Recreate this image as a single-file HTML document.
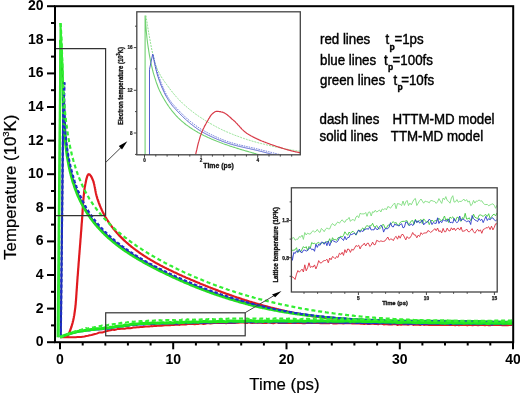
<!DOCTYPE html>
<html><head><meta charset="utf-8"><style>
html,body{margin:0;padding:0;background:#fff;width:520px;height:394px;overflow:hidden}
svg{display:block}
</style></head><body>
<svg width="520" height="394" viewBox="0 0 520 394">
<defs>
<clipPath id="cm"><rect x="56" y="7.2" width="456.2" height="334"/></clipPath>
<clipPath id="c1"><rect x="136.8" y="11.8" width="163.5" height="143.0"/></clipPath>
<clipPath id="c2"><rect x="291.4" y="187.8" width="205.8" height="104.19999999999999"/></clipPath>
</defs>
<rect width="520" height="394" fill="#fff"/>
<g clip-path="url(#cm)" stroke-linejoin="round" stroke-linecap="butt">
<path d="M60.0,337.2 L61.7,337.2 L63.5,337.3 L65.2,337.3 L67.0,337.3 L68.7,337.3 L70.5,337.3 L72.2,337.3 L74.0,337.3 L75.7,337.2 L77.5,337.1 L79.2,337.0 L81.0,336.9 L82.7,336.7 L84.5,336.5 L86.2,336.0 L88.0,335.7 L89.7,335.3 L91.5,335.0 L93.2,334.5 L95.0,334.0 L96.7,333.6 L98.5,332.8 L100.2,332.4 L102.0,332.6 L103.7,332.0 L105.5,331.3 L107.2,331.0 L109.0,330.6 L110.7,330.3 L112.5,329.6 L114.2,330.0 L116.0,329.6 L117.7,328.9 L119.5,329.0 L121.2,328.8 L123.0,328.8 L124.7,328.8 L126.5,328.3 L128.2,328.1 L130.0,328.2 L131.7,327.9 L133.5,327.6 L135.2,327.6 L137.0,327.3 L138.7,327.2 L140.5,327.0 L142.2,327.0 L144.0,326.7 L145.7,326.5 L147.5,326.5 L149.2,326.6 L150.9,326.1 L152.7,326.3 L154.4,325.9 L156.2,326.1 L157.9,325.6 L159.7,325.7 L161.4,325.8 L163.2,325.5 L164.9,325.3 L166.7,325.2 L168.4,325.3 L170.2,325.3 L171.9,324.9 L173.7,325.0 L175.4,324.7 L177.2,324.5 L178.9,324.9 L180.7,324.5 L182.4,324.2 L184.2,324.4 L185.9,324.5 L187.7,324.1 L189.4,324.1 L191.2,323.9 L192.9,324.1 L194.7,324.2 L196.4,323.9 L198.2,323.9 L199.9,323.6 L201.7,323.6 L203.4,323.9 L205.2,323.7 L206.9,323.3 L208.7,323.2 L210.4,323.4 L212.2,323.2 L213.9,323.1 L215.7,323.0 L217.4,322.9 L219.2,323.0 L220.9,323.0 L222.7,323.0 L224.4,322.7 L226.2,323.3 L227.9,322.9 L229.7,322.8 L231.4,323.1 L233.2,322.7 L234.9,322.9 L236.7,322.5 L238.4,322.7 L240.2,322.6 L241.9,322.5 L243.6,322.6 L245.4,322.9 L247.1,323.0 L248.9,322.4 L250.6,322.7 L252.4,322.9 L254.1,322.7 L255.9,322.8 L257.6,322.6 L259.4,322.7 L261.1,322.7 L262.9,322.9 L264.6,322.7 L266.4,323.0 L268.1,322.6 L269.9,322.5 L271.6,323.1 L273.4,323.3 L275.1,322.7 L276.9,322.3 L278.6,323.0 L280.4,323.1 L282.1,322.7 L283.9,323.0 L285.6,322.9 L287.4,322.9 L289.1,322.8 L290.9,322.9 L292.6,322.8 L294.4,322.9 L296.1,323.1 L297.9,323.0 L299.6,323.1 L301.4,322.9 L303.1,323.2 L304.9,323.2 L306.6,322.7 L308.4,323.0 L310.1,323.0 L311.9,322.9 L313.6,323.1 L315.4,323.1 L317.1,322.9 L318.9,323.0 L320.6,323.3 L322.4,322.9 L324.1,323.2 L325.9,323.3 L327.6,323.3 L329.4,323.2 L331.1,322.8 L332.8,323.4 L334.6,323.2 L336.3,323.6 L338.1,323.2 L339.8,323.1 L341.6,323.3 L343.3,323.5 L345.1,323.3 L346.8,323.3 L348.6,323.3 L350.3,323.1 L352.1,323.4 L353.8,323.6 L355.6,323.6 L357.3,323.6 L359.1,323.6 L360.8,323.7 L362.6,323.7 L364.3,324.1 L366.1,323.6 L367.8,323.9 L369.6,324.1 L371.3,323.8 L373.1,323.7 L374.8,323.9 L376.6,324.0 L378.3,324.2 L380.1,323.5 L381.8,323.9 L383.6,324.4 L385.3,324.3 L387.1,324.2 L388.8,324.6 L390.6,324.3 L392.3,324.4 L394.1,324.1 L395.8,324.2 L397.6,325.0 L399.3,324.4 L401.1,324.8 L402.8,324.3 L404.6,324.5 L406.3,324.5 L408.1,324.8 L409.8,324.2 L411.6,324.2 L413.3,324.9 L415.1,324.6 L416.8,324.8 L418.6,324.7 L420.3,325.0 L422.1,324.3 L423.8,324.9 L425.5,324.8 L427.3,324.7 L429.0,324.9 L430.8,324.8 L432.5,324.9 L434.3,324.8 L436.0,325.0 L437.8,324.9 L439.5,324.9 L441.3,324.9 L443.0,324.8 L444.8,324.9 L446.5,324.7 L448.3,324.9 L450.0,324.9 L451.8,325.0 L453.5,325.0 L455.3,325.2 L457.0,324.8 L458.8,325.2 L460.5,325.1 L462.3,324.9 L464.0,324.9 L465.8,325.0 L467.5,325.4 L469.3,324.9 L471.0,324.9 L472.8,325.3 L474.5,324.8 L476.3,325.1 L478.0,325.2 L479.8,325.0 L481.5,325.0 L483.3,325.0 L485.0,325.3 L486.8,324.7 L488.5,325.2 L490.3,325.3 L492.0,324.9 L493.8,325.1 L495.5,325.0 L497.3,325.1 L499.0,325.1 L500.8,325.0 L502.5,325.2 L504.3,324.9 L506.0,325.2 L507.8,325.2 L509.5,325.0 L511.3,325.0 L513.0,325.1" fill="none" stroke="#e0191f" stroke-width="2"/><path d="M60.0,337.2 L61.7,336.5 L63.5,335.9 L65.2,335.3 L67.0,334.7 L68.7,334.2 L70.5,333.6 L72.2,333.2 L74.0,332.7 L75.7,332.3 L77.5,331.9 L79.2,331.6 L81.0,331.3 L82.7,331.2 L84.5,330.7 L86.2,330.6 L88.0,330.3 L89.7,330.4 L91.5,330.0 L93.2,330.1 L95.0,329.6 L96.7,329.6 L98.5,329.4 L100.2,329.2 L102.0,329.3 L103.7,328.8 L105.5,328.3 L107.2,328.9 L109.0,328.7 L110.7,328.4 L112.5,327.7 L114.2,327.6 L116.0,327.1 L117.7,327.0 L119.5,326.8 L121.2,326.5 L123.0,326.4 L124.7,325.9 L126.5,326.1 L128.2,325.7 L130.0,325.4 L131.7,324.9 L133.5,325.2 L135.2,325.1 L137.0,324.9 L138.7,324.4 L140.5,324.6 L142.2,324.2 L144.0,324.7 L145.7,324.0 L147.5,324.0 L149.2,324.4 L150.9,324.0 L152.7,323.7 L154.4,323.9 L156.2,323.7 L157.9,323.3 L159.7,323.7 L161.4,323.7 L163.2,323.8 L164.9,323.5 L166.7,323.6 L168.4,323.5 L170.2,323.5 L171.9,323.3 L173.7,323.6 L175.4,323.6 L177.2,323.8 L178.9,323.0 L180.7,323.2 L182.4,322.9 L184.2,323.1 L185.9,323.2 L187.7,322.9 L189.4,323.0 L191.2,323.2 L192.9,323.1 L194.7,322.5 L196.4,322.8 L198.2,322.7 L199.9,322.8 L201.7,322.9 L203.4,322.5 L205.2,322.7 L206.9,322.8 L208.7,322.6 L210.4,322.7 L212.2,322.5 L213.9,322.2 L215.7,322.6 L217.4,322.1 L219.2,322.5 L220.9,322.3 L222.7,322.5 L224.4,322.4 L226.2,322.3 L227.9,322.4 L229.7,322.4 L231.4,322.4 L233.2,322.4 L234.9,322.5 L236.7,322.3 L238.4,322.1 L240.2,322.0 L241.9,322.1 L243.6,321.7 L245.4,322.1 L247.1,322.3 L248.9,321.8 L250.6,322.4 L252.4,322.0 L254.1,322.4 L255.9,322.1 L257.6,322.6 L259.4,322.0 L261.1,322.3 L262.9,322.4 L264.6,321.9 L266.4,322.1 L268.1,322.2 L269.9,322.4 L271.6,322.2 L273.4,322.3 L275.1,322.1 L276.9,322.1 L278.6,322.4 L280.4,322.4 L282.1,322.4 L283.9,322.5 L285.6,322.4 L287.4,322.3 L289.1,322.1 L290.9,322.0 L292.6,322.5 L294.4,322.2 L296.1,322.4 L297.9,321.9 L299.6,322.3 L301.4,322.2 L303.1,322.5 L304.9,322.5 L306.6,322.3 L308.4,322.4 L310.1,322.3 L311.9,322.7 L313.6,322.2 L315.4,322.5 L317.1,322.0 L318.9,322.4 L320.6,322.2 L322.4,322.7 L324.1,322.3 L325.9,322.6 L327.6,322.5 L329.4,322.4 L331.1,322.5 L332.8,322.4 L334.6,322.3 L336.3,322.4 L338.1,322.5 L339.8,322.8 L341.6,322.7 L343.3,322.6 L345.1,323.0 L346.8,322.5 L348.6,322.7 L350.3,322.7 L352.1,322.5 L353.8,322.6 L355.6,322.7 L357.3,323.0 L359.1,322.7 L360.8,322.8 L362.6,323.0 L364.3,322.7 L366.1,322.8 L367.8,323.4 L369.6,323.0 L371.3,323.3 L373.1,322.8 L374.8,322.9 L376.6,323.3 L378.3,323.3 L380.1,323.1 L381.8,323.2 L383.6,322.9 L385.3,323.1 L387.1,323.3 L388.8,323.2 L390.6,323.8 L392.3,323.3 L394.1,323.2 L395.8,323.5 L397.6,323.6 L399.3,323.4 L401.1,323.1 L402.8,323.5 L404.6,323.8 L406.3,323.3 L408.1,324.0 L409.8,323.5 L411.6,323.7 L413.3,323.5 L415.1,323.8 L416.8,323.4 L418.6,323.6 L420.3,324.1 L422.1,324.1 L423.8,323.8 L425.5,323.5 L427.3,323.7 L429.0,323.7 L430.8,323.8 L432.5,323.6 L434.3,323.7 L436.0,323.7 L437.8,324.0 L439.5,323.6 L441.3,323.6 L443.0,324.1 L444.8,323.4 L446.5,323.7 L448.3,324.0 L450.0,324.3 L451.8,323.7 L453.5,323.8 L455.3,324.0 L457.0,324.3 L458.8,323.7 L460.5,324.0 L462.3,324.0 L464.0,323.4 L465.8,323.5 L467.5,323.8 L469.3,324.1 L471.0,323.8 L472.8,324.4 L474.5,324.0 L476.3,324.1 L478.0,324.3 L479.8,324.3 L481.5,323.9 L483.3,324.0 L485.0,324.0 L486.8,323.8 L488.5,324.2 L490.3,324.3 L492.0,324.4 L493.8,324.1 L495.5,323.9 L497.3,324.1 L499.0,323.9 L500.8,324.3 L502.5,324.1 L504.3,324.2 L506.0,324.3 L507.8,323.7 L509.5,323.9 L511.3,324.2 L513.0,324.2" fill="none" stroke="#1f2fc8" stroke-width="2"/><path d="M67.0,337.3 L67.4,336.6 L67.7,336.0 L68.0,335.3 L68.3,334.7 L68.6,334.0 L68.9,333.4 L69.2,332.7 L69.5,332.1 L69.8,331.4 L70.0,330.7 L70.3,330.1 L70.5,329.4 L70.8,328.7 L71.0,328.0 L71.3,327.3 L71.5,326.7 L71.7,326.0 L71.9,325.3 L72.1,324.6 L72.3,323.9 L72.5,323.2 L72.7,322.5 L72.8,321.8 L73.0,321.2 L73.2,320.5 L73.3,319.8 L73.5,319.1 L73.6,318.4 L73.8,317.7 L73.9,316.9 L74.0,316.2 L74.2,315.5 L74.3,314.8 L74.4,314.1 L74.5,313.4 L74.6,312.7 L74.7,312.0 L74.8,311.3 L74.9,310.5 L75.0,309.8 L75.1,309.1 L75.2,308.4 L75.3,307.7 L75.4,306.9 L75.4,306.2 L75.5,305.5 L75.6,304.8 L75.7,304.1 L75.7,303.3 L75.8,302.6 L75.8,301.9 L75.9,301.2 L76.0,300.4 L76.0,299.7 L76.1,299.0 L76.1,298.3 L76.2,297.5 L76.2,296.8 L76.3,296.1 L76.3,295.3 L76.4,294.6 L76.4,293.9 L76.5,293.2 L76.5,292.4 L76.6,291.7 L76.6,291.0 L76.7,290.3 L76.7,289.5 L76.8,288.8 L76.8,288.1 L76.9,287.4 L76.9,286.6 L77.0,285.9 L77.0,285.2 L77.1,284.5 L77.1,283.7 L77.2,283.0 L77.2,282.3 L77.3,281.6 L77.3,280.8 L77.4,280.1 L77.4,279.4 L77.5,278.7 L77.5,277.9 L77.6,277.2 L77.6,276.5 L77.7,275.8 L77.8,275.1 L77.8,274.3 L77.9,273.6 L77.9,272.9 L78.0,272.2 L78.0,271.4 L78.1,270.7 L78.1,270.0 L78.2,269.3 L78.2,268.6 L78.3,267.8 L78.4,267.1 L78.4,266.4 L78.5,265.7 L78.5,265.0 L78.6,264.2 L78.6,263.5 L78.7,262.8 L78.7,262.1 L78.8,261.4 L78.9,260.7 L78.9,259.9 L79.0,259.2 L79.0,258.5 L79.1,257.8 L79.1,257.1 L79.2,256.3 L79.2,255.6 L79.3,254.9 L79.4,254.2 L79.4,253.5 L79.5,252.7 L79.5,252.0 L79.6,251.3 L79.6,250.6 L79.7,249.9 L79.8,249.2 L79.8,248.4 L79.9,247.7 L79.9,247.0 L80.0,246.3 L80.0,245.6 L80.1,244.9 L80.2,244.1 L80.2,243.4 L80.3,242.7 L80.3,242.0 L80.4,241.3 L80.4,240.5 L80.5,239.8 L80.5,239.1 L80.6,238.4 L80.7,237.7 L80.7,237.0 L80.8,236.2 L80.8,235.5 L80.9,234.8 L80.9,234.1 L81.0,233.4 L81.0,232.6 L81.1,231.9 L81.2,231.2 L81.2,230.5 L81.3,229.8 L81.3,229.1 L81.4,228.3 L81.4,227.6 L81.5,226.9 L81.5,226.2 L81.6,225.5 L81.6,224.7 L81.7,224.0 L81.7,223.3 L81.8,222.6 L81.9,221.9 L81.9,221.1 L82.0,220.4 L82.0,219.7 L82.1,219.0 L82.1,218.3 L82.2,217.5 L82.2,216.8 L82.3,216.1 L82.3,215.4 L82.4,214.6 L82.4,213.9 L82.5,213.2 L82.5,212.5 L82.6,211.8 L82.6,211.0 L82.6,210.3 L82.7,209.6 L82.7,208.9 L82.8,208.1 L82.8,207.4 L82.9,206.7 L82.9,206.0 L83.0,205.2 L83.0,204.5 L83.1,203.8 L83.1,203.1 L83.2,202.3 L83.2,201.6 L83.3,200.9 L83.3,200.2 L83.4,199.4 L83.5,198.7 L83.5,198.0 L83.6,197.2 L83.7,196.5 L83.7,195.8 L83.8,195.1 L83.9,194.3 L84.0,193.6 L84.0,192.9 L84.1,192.1 L84.2,191.4 L84.3,190.7 L84.4,189.9 L84.5,189.2 L84.6,188.5 L84.7,187.7 L84.8,187.0 L85.0,186.3 L85.1,185.5 L85.2,184.8 L85.4,184.0 L85.5,183.3 L85.7,182.6 L85.8,181.8 L86.0,181.1 L86.1,180.3 L86.3,179.6 L86.5,178.9 L86.7,178.1 L86.9,177.4 L87.1,176.7 L87.3,176.1 L87.5,175.6 L87.8,175.1 L88.1,174.7 L88.3,174.4 L88.6,174.3 L88.9,174.2 L89.3,174.3 L89.6,174.5 L90.0,174.8 L90.3,175.3 L90.7,175.7 L91.1,176.3 L91.4,176.9 L91.8,177.6 L92.1,178.3 L92.4,179.0 L92.7,179.7 L93.0,180.4 L93.3,181.1 L93.5,181.9 L93.7,182.6 L93.9,183.3 L94.1,184.1 L94.3,184.8 L94.4,185.5 L94.6,186.3 L94.7,187.0 L94.9,187.8 L95.0,188.5 L95.2,189.2 L95.3,190.0 L95.4,190.7 L95.6,191.5 L95.7,192.2 L95.9,193.0 L96.0,193.7 L96.2,194.4 L96.4,195.2 L96.6,195.9 L96.8,196.6 L97.0,197.4 L97.2,198.1 L97.4,198.8 L97.7,199.6 L97.9,200.3 L98.2,201.0 L98.4,201.7 L98.7,202.4 L98.9,203.1 L99.2,203.8 L99.5,204.5 L99.7,205.2 L100.0,205.9 L100.3,206.6 L100.6,207.3 L100.9,208.0 L101.2,208.6 L101.5,209.3 L101.8,210.0 L102.1,210.6 L102.4,211.3 L102.7,211.9 L103.0,212.6 L103.4,213.2 L103.7,213.9 L104.1,214.5 L104.4,215.1 L104.7,215.8 L105.1,216.4 L105.4,217.0 L105.8,217.6 L106.2,218.2 L106.5,218.9 L106.9,219.5 L107.3,220.1 L107.7,220.7 L108.1,221.3 L108.4,221.9 L108.8,222.5 L109.2,223.0 L109.6,223.6 L110.0,224.2 L110.5,224.8 L110.9,225.4 L111.3,225.9 L111.7,226.5 L112.1,227.0 L112.6,227.6 L113.0,228.2 L113.4,228.7 L113.9,229.3 L114.3,229.8 L114.8,230.4 L115.2,230.9 L115.7,231.4 L116.1,232.0 L116.6,232.5 L117.0,233.0 L117.5,233.5 L118.0,234.1 L118.5,234.6 L118.9,235.1 L119.4,235.6 L119.9,236.1 L120.4,236.6 L120.9,237.1 L121.4,237.6 L121.9,238.1 L122.4,238.6 L122.9,239.1 L123.4,239.6 L123.9,240.1 L124.4,240.6 L124.9,241.0 L125.4,241.5 L126.0,242.0 L126.5,242.5 L127.0,242.9 L127.6,243.4 L128.1,243.8 L128.6,244.3 L129.2,244.8 L129.7,245.2 L130.2,245.7 L130.8,246.1 L131.3,246.6 L131.9,247.0 L132.5,247.5 L133.0,247.9 L133.6,248.3 L134.1,248.8 L134.7,249.2 L135.3,249.6 L135.8,250.0 L136.4,250.5 L137.0,250.9 L137.6,251.3 L138.2,251.7 L138.7,252.1 L139.3,252.6 L139.9,253.0 L140.5,253.4 L141.1,253.8 L141.7,254.2 L142.3,254.6 L142.9,255.0 L143.5,255.4 L144.1,255.8 L144.7,256.2 L145.3,256.5 L145.9,256.9 L146.5,257.3 L147.1,257.7 L147.7,258.1 L148.4,258.5 L149.0,258.8 L149.6,259.2 L150.2,259.6 L150.8,260.0 L151.5,260.3 L152.1,260.7 L152.7,261.1 L153.4,261.4 L154.0,261.8 L154.6,262.2 L155.3,262.5 L155.9,262.9 L156.5,263.2 L157.2,263.6 L157.8,263.9 L158.5,264.3 L159.1,264.6 L159.7,265.0 L160.4,265.3 L161.0,265.7 L161.7,266.0 L162.3,266.3 L163.0,266.7 L163.6,267.0 L164.3,267.3 L164.9,267.7 L165.6,268.0 L166.3,268.3 L166.9,268.7 L167.6,269.0 L168.2,269.3 L168.9,269.7 L169.6,270.0 L170.2,270.3 L170.9,270.6 L171.6,270.9 L172.2,271.3 L172.9,271.6 L173.5,271.9 L174.2,272.2 L174.9,272.5 L175.6,272.8 L176.2,273.1 L176.9,273.4 L177.6,273.8 L178.2,274.1 L178.9,274.4 L179.6,274.7 L180.2,275.0 L180.9,275.3 L181.6,275.6 L182.3,275.9 L182.9,276.2 L183.6,276.5 L184.3,276.8 L185.0,277.1 L185.6,277.4 L186.3,277.7 L187.0,278.0 L187.7,278.3 L188.3,278.5 L189.0,278.8 L189.7,279.1 L190.4,279.4 L191.0,279.7 L191.7,280.0 L192.4,280.3 L193.1,280.6 L193.8,280.9 L194.4,281.1 L195.1,281.4 L195.8,281.7 L196.5,282.0 L197.1,282.3 L197.8,282.6 L198.5,282.8 L199.2,283.1 L199.8,283.4 L200.5,283.7 L201.2,284.0 L201.9,284.2 L202.5,284.5 L203.2,284.8 L203.9,285.1 L204.6,285.3 L205.2,285.6 L205.9,285.9 L206.6,286.2 L207.3,286.4 L208.0,286.7 L208.6,287.0 L209.3,287.2 L210.0,287.5 L210.7,287.8 L211.3,288.0 L212.0,288.3 L212.7,288.6 L213.4,288.8 L214.0,289.1 L214.7,289.3 L215.4,289.6 L216.1,289.9 L216.8,290.1 L217.4,290.4 L218.1,290.6 L218.8,290.9 L219.5,291.2 L220.2,291.4 L220.8,291.7 L221.5,291.9 L222.2,292.2 L222.9,292.4 L223.5,292.7 L224.2,292.9 L224.9,293.2 L225.6,293.4 L226.3,293.7 L226.9,293.9 L227.6,294.1 L228.3,294.4 L229.0,294.6 L229.7,294.9 L230.3,295.1 L231.0,295.3 L231.7,295.6 L232.4,295.8 L233.1,296.1 L233.7,296.3 L234.4,296.5 L235.1,296.8 L235.8,297.0 L236.5,297.2 L237.1,297.5 L237.8,297.7 L238.5,297.9 L239.2,298.1 L239.9,298.4 L240.6,298.6 L241.2,298.8 L241.9,299.1 L242.6,299.3 L243.3,299.5 L244.0,299.7 L244.6,299.9 L245.3,300.2 L246.0,300.4 L246.7,300.6 L247.4,300.8 L248.1,301.0 L248.7,301.2 L249.4,301.5 L250.1,301.7 L250.8,301.9 L251.5,302.1 L252.2,302.3 L252.9,302.5 L253.5,302.7 L254.2,302.9 L254.9,303.1 L255.6,303.3 L256.3,303.5 L257.0,303.7 L257.7,303.9 L258.3,304.1 L259.0,304.3 L259.7,304.5 L260.4,304.7 L261.1,304.9 L261.8,305.1 L262.5,305.3 L263.2,305.5 L263.8,305.7 L264.5,305.9 L265.2,306.1 L265.9,306.2 L266.6,306.4 L267.3,306.6 L268.0,306.8 L268.7,307.0 L269.4,307.2 L270.0,307.3 L270.7,307.5 L271.4,307.7 L272.1,307.9 L272.8,308.1 L273.5,308.2 L274.2,308.4 L274.9,308.6 L275.6,308.8 L276.3,308.9 L277.0,309.1 L277.7,309.3 L278.3,309.4 L279.0,309.6 L279.7,309.8 L280.4,309.9 L281.1,310.1 L281.8,310.3 L282.5,310.4 L283.2,310.6 L283.9,310.7 L284.6,310.9 L285.3,311.0 L286.0,311.2 L286.7,311.3 L287.4,311.5 L288.1,311.7 L288.8,311.8 L289.5,311.9 L290.2,312.1 L290.9,312.2 L291.6,312.4 L292.3,312.5 L293.0,312.7 L293.7,312.8 L294.4,313.0 L295.1,313.1 L295.8,313.2 L296.5,313.4 L297.2,313.5 L297.9,313.6 L298.6,313.8 L299.3,313.9 L300.0,314.0 L300.7,314.2 L301.4,314.3 L302.1,314.4 L302.8,314.5 L303.5,314.7 L304.2,314.8 L304.9,314.9 L305.6,315.0 L306.3,315.1 L307.0,315.3 L307.7,315.4 L308.4,315.5 L309.1,315.6 L309.8,315.7 L310.5,315.8 L311.2,315.9 L311.9,316.0 L312.7,316.2 L313.4,316.3 L314.1,316.4 L314.8,316.5 L315.5,316.6 L316.2,316.7 L316.9,316.8 L317.6,316.9 L318.3,317.0 L319.0,317.1 L319.8,317.2 L320.5,317.2 L321.2,317.3 L321.9,317.4 L322.6,317.5 L323.3,317.6 L324.0,317.7 L324.7,317.8 L325.5,317.9 L326.2,317.9 L326.9,318.0 L327.6,318.1 L328.3,318.2 L329.0,318.3 L329.8,318.3 L330.5,318.4 L331.2,318.5 L331.9,318.6 L332.6,318.6 L333.3,318.7 L334.1,318.8 L334.8,318.8 L335.5,318.9 L336.2,319.0 L336.9,319.0 L337.7,319.1 L338.4,319.2 L339.1,319.2 L339.8,319.3 L340.5,319.3 L341.3,319.4 L342.0,319.4 L342.7,319.5 L343.4,319.6 L344.1,319.6 L344.9,319.7 L345.6,319.7 L346.3,319.8 L347.0,319.8 L347.8,319.9 L348.5,319.9 L349.2,320.0 L349.9,320.0 L350.7,320.0 L351.4,320.1 L352.1,320.1 L352.8,320.2 L353.6,320.2 L354.3,320.3 L355.0,320.3 L355.7,320.3 L356.5,320.4 L357.2,320.4 L357.9,320.4 L358.6,320.5 L359.4,320.5 L360.1,320.5 L360.8,320.6 L361.5,320.6 L362.3,320.6 L363.0,320.7 L363.7,320.7 L364.5,320.7 L365.2,320.8 L365.9,320.8 L366.6,320.8 L367.4,320.8 L368.1,320.9 L368.8,320.9 L369.6,320.9 L370.3,320.9 L371.0,321.0 L371.8,321.0 L372.5,321.0 L373.2,321.0 L373.9,321.0 L374.7,321.0 L375.4,321.1 L376.1,321.1 L376.9,321.1 L377.6,321.1 L378.3,321.1 L379.1,321.1 L379.8,321.2 L380.5,321.2 L381.3,321.2 L382.0,321.2 L382.7,321.2 L383.5,321.2 L384.2,321.2 L384.9,321.2 L385.7,321.3 L386.4,321.3 L387.1,321.3 L387.8,321.3 L388.6,321.3 L389.3,321.3 L390.0,321.3 L390.8,321.3 L391.5,321.3 L392.2,321.3 L393.0,321.3 L393.7,321.3 L394.4,321.3 L395.2,321.3 L395.9,321.4 L396.6,321.4 L397.4,321.4 L398.1,321.4 L398.8,321.4 L399.6,321.4 L400.3,321.4 L401.0,321.4 L401.8,321.4 L402.5,321.4 L403.2,321.4 L404.0,321.4 L404.7,321.4 L405.4,321.4 L406.2,321.4 L406.9,321.4 L407.6,321.4 L408.4,321.4 L409.1,321.4 L409.8,321.4 L410.6,321.4 L411.3,321.4 L412.0,321.4 L412.8,321.4 L413.5,321.4 L414.2,321.4 L415.0,321.4 L415.7,321.4 L416.4,321.3 L417.2,321.3 L417.9,321.3 L418.6,321.3 L419.4,321.3 L420.1,321.3 L420.8,321.3 L421.6,321.3 L422.3,321.3 L423.0,321.3 L423.8,321.3 L424.5,321.3 L425.2,321.3 L426.0,321.3 L426.7,321.3 L427.4,321.3 L428.2,321.3 L428.9,321.3 L429.6,321.3 L430.4,321.3 L431.1,321.3 L431.8,321.3 L432.5,321.3 L433.3,321.3 L434.0,321.3 L434.7,321.3 L435.5,321.3 L436.2,321.3 L436.9,321.3 L437.7,321.3 L438.4,321.3 L439.1,321.3 L439.9,321.3 L440.6,321.3 L441.3,321.3 L442.0,321.3 L442.8,321.3 L443.5,321.3 L444.2,321.3 L445.0,321.3 L445.7,321.3 L446.4,321.3 L447.1,321.3 L447.9,321.3 L448.6,321.3 L449.3,321.3 L450.1,321.3 L450.8,321.3 L451.5,321.3 L452.2,321.3 L453.0,321.3 L453.7,321.3 L454.4,321.3 L455.1,321.3 L455.9,321.3 L456.6,321.3 L457.3,321.3 L458.0,321.3 L458.8,321.3 L459.5,321.3 L460.2,321.3 L460.9,321.3 L461.7,321.4 L462.4,321.4 L463.1,321.4 L463.8,321.4 L464.6,321.4 L465.3,321.4 L466.0,321.4 L466.7,321.4 L467.4,321.4 L468.2,321.5 L468.9,321.5 L469.6,321.5 L470.3,321.5 L471.1,321.5 L471.8,321.5 L472.5,321.6 L473.2,321.6 L473.9,321.6 L474.6,321.6 L475.4,321.6 L476.1,321.6 L476.8,321.7 L477.5,321.7 L478.2,321.7 L479.0,321.7 L479.7,321.8 L480.4,321.8 L481.1,321.8 L481.8,321.8 L482.5,321.9 L483.3,321.9 L484.0,321.9 L484.7,321.9 L485.4,322.0 L486.1,322.0 L486.8,322.0 L487.5,322.1 L488.3,322.1 L489.0,322.1 L489.7,322.2 L490.4,322.2 L491.1,322.2 L491.8,322.3 L492.5,322.3 L493.2,322.3 L493.9,322.4 L494.6,322.4 L495.4,322.5 L496.1,322.5 L496.8,322.6 L497.5,322.6 L498.2,322.6 L498.9,322.7 L499.6,322.7 L500.3,322.8 L501.0,322.8 L501.7,322.9 L502.4,322.9 L503.1,323.0 L503.8,323.0 L504.5,323.1 L505.2,323.1 L505.9,323.2 L506.6,323.3 L507.4,323.3 L508.1,323.4 L508.8,323.4 L509.5,323.5 L510.2,323.6 L510.9,323.6 L511.6,323.7 L512.3,323.7 L512.9,323.8" fill="none" stroke="#e0191f" stroke-width="2.2"/><path d="M60.8,337.2 L62.9,140.6 L63.4,96.9 L63.9,93.5 L64.6,115.6 L65.4,133.5 L66.1,141.9 L66.8,148.4 L67.6,153.9 L68.3,158.6 L69.1,162.7 L69.8,166.5 L70.6,169.9 L71.3,173.1 L72.1,176.0 L72.8,178.7 L73.6,181.3 L74.3,183.7 L75.1,186.0 L75.8,188.2 L76.6,190.2 L77.3,192.2 L78.1,194.1 L78.8,195.9 L79.6,197.6 L80.3,199.3 L81.1,200.9 L81.8,202.4 L82.6,203.9 L83.3,205.3 L84.1,206.7 L84.8,208.0 L85.6,209.3 L86.3,210.6 L87.1,211.8 L87.8,212.9 L88.6,214.1 L89.3,215.2 L90.1,216.3 L90.8,217.3 L91.6,218.3 L92.3,219.3 L93.1,220.3 L93.8,221.3 L94.6,222.2 L95.3,223.1 L96.1,224.0 L96.8,224.9 L97.6,225.7 L98.3,226.5 L99.1,227.4 L99.8,228.2 L100.6,229.0 L101.3,229.7 L102.1,230.5 L102.8,231.2 L103.6,232.0 L104.3,232.7 L105.1,233.4 L105.8,234.1 L106.6,234.8 L107.3,235.5 L108.1,236.2 L108.8,236.8 L109.6,237.5 L110.3,238.1 L111.1,238.8 L111.8,239.4 L112.6,240.0 L113.3,240.6 L114.1,241.3 L114.8,241.9 L115.6,242.4 L116.3,243.0 L117.1,243.6 L117.8,244.2 L118.6,244.8 L119.3,245.3 L120.1,245.9 L120.8,246.4 L121.6,247.0 L122.3,247.5 L123.1,248.0 L123.8,248.6 L124.6,249.1 L125.3,249.6 L126.1,250.1 L126.8,250.6 L127.6,251.1 L128.3,251.6 L129.1,252.1 L129.8,252.6 L130.6,253.1 L131.3,253.6 L132.1,254.1 L132.8,254.6 L133.6,255.0 L134.3,255.5 L135.1,256.0 L135.8,256.4 L136.6,256.9 L137.3,257.3 L138.1,257.8 L138.8,258.3 L139.6,258.7 L140.3,259.1 L141.1,259.6 L141.8,260.0 L142.6,260.5 L143.3,260.9 L144.1,261.3 L144.8,261.8 L145.6,262.2 L146.3,262.6 L147.1,263.0 L147.8,263.5 L148.6,263.9 L149.3,264.3 L150.1,264.7 L150.8,265.1 L151.6,265.5 L152.3,265.9 L153.1,266.3 L153.8,266.7 L154.6,267.1 L155.3,267.5 L156.1,267.9 L156.8,268.3 L157.6,268.7 L158.3,269.1 L159.1,269.5 L159.8,269.9 L160.6,270.2 L161.3,270.6 L162.1,271.0 L162.8,271.4 L163.6,271.8 L164.3,272.1 L165.1,272.5 L165.8,272.9 L166.6,273.2 L167.3,273.6 L168.1,274.0 L168.8,274.3 L169.6,274.7 L170.3,275.0 L171.1,275.4 L171.8,275.8 L172.6,276.1 L173.3,276.5 L174.1,276.8 L174.8,277.1 L175.6,277.5 L176.3,277.8 L177.1,278.2 L177.8,278.5 L178.6,278.9 L179.3,279.2 L180.1,279.5 L180.8,279.9 L181.6,280.2 L182.3,280.5 L183.1,280.8 L183.8,281.2 L184.6,281.5 L185.3,281.8 L186.1,282.1 L186.8,282.5 L187.6,282.8 L188.3,283.1 L189.1,283.4 L189.8,283.7 L190.6,284.0 L191.3,284.3 L192.1,284.6 L192.8,285.0 L193.6,285.3 L194.3,285.6 L195.1,285.9 L195.8,286.2 L196.6,286.5 L197.3,286.8 L198.1,287.0 L198.8,287.3 L199.6,287.6 L200.3,287.9 L201.1,288.2 L201.8,288.5 L202.6,288.8 L203.3,289.1 L204.1,289.3 L204.8,289.6 L205.6,289.9 L206.3,290.2 L207.1,290.5 L207.8,290.7 L208.6,291.0 L209.3,291.3 L210.1,291.5 L210.8,291.8 L211.6,292.1 L212.3,292.3 L213.1,292.6 L213.8,292.9 L214.6,293.1 L215.3,293.4 L216.1,293.6 L216.8,293.9 L217.6,294.2 L218.3,294.4 L219.1,294.7 L219.8,294.9 L220.6,295.2 L221.3,295.4 L222.1,295.7 L222.8,295.9 L223.6,296.1 L224.3,296.4 L225.1,296.6 L225.8,296.9 L226.6,297.1 L227.3,297.3 L228.1,297.6 L228.8,297.8 L229.6,298.0 L230.3,298.3 L231.1,298.5 L231.8,298.7 L232.6,298.9 L233.3,299.2 L234.1,299.4 L234.8,299.6 L235.6,299.8 L236.3,300.0 L237.1,300.3 L237.8,300.5 L238.6,300.7 L239.3,300.9 L240.1,301.1 L240.8,301.3 L241.6,301.5 L242.3,301.7 L243.1,301.9 L243.8,302.1 L244.6,302.3 L245.3,302.5 L246.1,302.7 L246.8,302.9 L247.6,303.1 L248.3,303.3 L249.1,303.5 L249.8,303.7 L250.6,303.9 L251.3,304.1 L252.1,304.3 L252.8,304.5 L253.6,304.7 L254.3,304.9 L255.1,305.0 L255.8,305.2 L256.6,305.4 L257.3,305.6 L258.1,305.8 L258.8,305.9 L259.6,306.1 L260.3,306.3 L261.1,306.5 L261.8,306.6 L262.6,306.8 L263.3,307.0 L264.1,307.2 L264.8,307.3 L265.6,307.5 L266.3,307.7 L267.1,307.8 L267.8,308.0 L268.6,308.1 L269.3,308.3 L270.1,308.5 L270.8,308.6 L271.6,308.8 L272.3,308.9 L273.1,309.1 L273.8,309.2 L274.6,309.4 L275.3,309.5 L276.1,309.7 L276.8,309.8 L277.6,310.0 L278.3,310.1 L279.1,310.3 L279.8,310.4 L280.6,310.6 L281.3,310.7 L282.1,310.8 L282.8,311.0 L283.6,311.1 L284.3,311.2 L285.1,311.4 L285.8,311.5 L286.6,311.6 L287.3,311.8 L288.1,311.9 L288.8,312.0 L289.5,312.2 L290.3,312.3 L291.0,312.4 L291.8,312.5 L292.5,312.7 L293.3,312.8 L294.0,312.9 L294.8,313.0 L295.5,313.1 L296.3,313.3 L297.0,313.4 L297.8,313.5 L298.5,313.6 L299.3,313.7 L300.0,313.8 L300.8,313.9 L301.5,314.0 L302.3,314.2 L303.0,314.3 L303.8,314.4 L304.5,314.5 L305.3,314.6 L306.0,314.7 L306.8,314.8 L307.5,314.9 L308.3,315.0 L309.0,315.1 L309.8,315.2 L310.5,315.3 L311.3,315.4 L312.0,315.5 L312.8,315.6 L313.5,315.7 L314.3,315.7 L315.0,315.8 L315.8,315.9 L316.5,316.0 L317.3,316.1 L318.0,316.2 L318.8,316.3 L319.5,316.4 L320.3,316.4 L321.0,316.5 L321.8,316.6 L322.5,316.7 L323.3,316.8 L324.0,316.9 L324.8,316.9 L325.5,317.0 L326.3,317.1 L327.0,317.2 L327.8,317.2 L328.5,317.3 L329.3,317.4 L330.0,317.5 L330.8,317.5 L331.5,317.6 L332.3,317.7 L333.0,317.7 L333.8,317.8 L334.5,317.9 L335.3,318.0 L336.0,318.0 L336.8,318.1 L337.5,318.1 L338.3,318.2 L339.0,318.3 L339.8,318.3 L340.5,318.4 L341.3,318.5 L342.0,318.5 L342.8,318.6 L343.5,318.6 L344.3,318.7 L345.0,318.8 L345.8,318.8 L346.5,318.9 L347.3,318.9 L348.0,319.0 L348.8,319.0 L349.5,319.1 L350.3,319.1 L351.0,319.2 L351.8,319.2 L352.5,319.3 L353.3,319.3 L354.0,319.4 L354.8,319.4 L355.5,319.5 L356.3,319.5 L357.0,319.6 L357.8,319.6 L358.5,319.7 L359.3,319.7 L360.0,319.7 L360.8,319.8 L361.5,319.8 L362.3,319.9 L363.0,319.9 L363.8,320.0 L364.5,320.0 L365.3,320.0 L366.0,320.1 L366.8,320.1 L367.5,320.1 L368.3,320.2 L369.0,320.2 L369.8,320.3 L370.5,320.3 L371.3,320.3 L372.0,320.4 L372.8,320.4 L373.5,320.4 L374.3,320.5 L375.0,320.5 L375.8,320.5 L376.5,320.6 L377.3,320.6 L378.0,320.6 L378.8,320.6 L379.5,320.7 L380.3,320.7 L381.0,320.7 L381.8,320.8 L382.5,320.8 L383.3,320.8 L384.0,320.8 L384.8,320.9 L385.5,320.9 L386.3,320.9 L387.0,320.9 L387.8,321.0 L388.5,321.0 L389.3,321.0 L390.0,321.0 L390.8,321.0 L391.5,321.1 L392.3,321.1 L393.0,321.1 L393.8,321.1 L394.5,321.1 L395.3,321.2 L396.0,321.2 L396.8,321.2 L397.5,321.2 L398.3,321.2 L399.0,321.3 L399.8,321.3 L400.5,321.3 L401.3,321.3 L402.0,321.3 L402.8,321.3 L403.5,321.4 L404.3,321.4 L405.0,321.4 L405.8,321.4 L406.5,321.4 L407.3,321.4 L408.0,321.4 L408.8,321.4 L409.5,321.5 L410.3,321.5 L411.0,321.5 L411.8,321.5 L412.5,321.5 L413.3,321.5 L414.0,321.5 L414.8,321.5 L415.5,321.6 L416.3,321.6 L417.0,321.6 L417.8,321.6 L418.5,321.6 L419.3,321.6 L420.0,321.6 L420.8,321.6 L421.5,321.6 L422.3,321.6 L423.0,321.6 L423.8,321.6 L424.5,321.7 L425.3,321.7 L426.0,321.7 L426.8,321.7 L427.5,321.7 L428.3,321.7 L429.0,321.7 L429.8,321.7 L430.5,321.7 L431.3,321.7 L432.0,321.7 L432.8,321.7 L433.5,321.7 L434.3,321.7 L435.0,321.7 L435.8,321.7 L436.5,321.7 L437.3,321.8 L438.0,321.8 L438.8,321.8 L439.5,321.8 L440.3,321.8 L441.0,321.8 L441.8,321.8 L442.5,321.8 L443.3,321.8 L444.0,321.8 L444.8,321.8 L445.5,321.8 L446.3,321.8 L447.0,321.8 L447.8,321.8 L448.5,321.8 L449.3,321.8 L450.0,321.8 L450.8,321.8 L451.5,321.8 L452.3,321.8 L453.0,321.8 L453.8,321.8 L454.5,321.8 L455.3,321.8 L456.0,321.8 L456.8,321.8 L457.5,321.8 L458.3,321.9 L459.0,321.9 L459.8,321.9 L460.5,321.9 L461.3,321.9 L462.0,321.9 L462.8,321.9 L463.5,321.9 L464.3,321.9 L465.0,321.9 L465.8,321.9 L466.5,321.9 L467.3,321.9 L468.0,321.9 L468.8,321.9 L469.5,321.9 L470.3,321.9 L471.0,321.9 L471.8,321.9 L472.5,321.9 L473.3,321.9 L474.0,321.9 L474.8,321.9 L475.5,321.9 L476.3,321.9 L477.0,321.9 L477.8,321.9 L478.5,322.0 L479.3,322.0 L480.0,322.0 L480.8,322.0 L481.5,322.0 L482.3,322.0 L483.0,322.0 L483.8,322.0 L484.5,322.0 L485.3,322.0 L486.0,322.0 L486.8,322.0 L487.5,322.0 L488.3,322.0 L489.0,322.0 L489.8,322.0 L490.5,322.1 L491.3,322.1 L492.0,322.1 L492.8,322.1 L493.5,322.1 L494.3,322.1 L495.0,322.1 L495.8,322.1 L496.5,322.1 L497.3,322.1 L498.0,322.1 L498.8,322.2 L499.5,322.2 L500.3,322.2 L501.0,322.2 L501.8,322.2 L502.5,322.2 L503.3,322.2 L504.0,322.2 L504.8,322.3 L505.5,322.3 L506.3,322.3 L507.0,322.3 L507.8,322.3 L508.5,322.3 L509.3,322.3 L510.0,322.4 L510.8,322.4 L511.5,322.4 L512.3,322.4 L513.0,322.4" fill="none" stroke="#1a2aa0" stroke-width="2"/><path d="M57.8,337.2 L60.6,39.8" fill="none" stroke="#3ad83a" stroke-width="2.4"/><path d="M60.3,40.4 L60.4,41.4 L60.5,42.3 L60.6,43.3 L60.7,44.2 L60.8,45.2 L60.9,46.2 L61.0,47.1 L61.1,48.1 L61.2,49.1 L61.2,50.1 L61.3,51.1 L61.4,52.0 L61.5,53.0 L61.5,54.0 L61.6,55.0 L61.7,56.0 L61.7,57.0 L61.8,58.1 L61.8,59.1 L61.9,60.1 L61.9,61.1 L62.0,62.1 L62.0,63.1 L62.1,64.2 L62.1,65.2 L62.2,66.2 L62.2,67.3 L62.3,68.3 L62.3,69.3 L62.3,70.4 L62.4,71.4 L62.4,72.5 L62.4,73.5 L62.5,74.6 L62.5,75.6 L62.5,76.7 L62.5,77.7 L62.6,78.8 L62.6,79.9 L62.6,80.9 L62.7,82.0 L62.7,83.0 L62.7,84.1 L62.7,85.2 L62.7,86.3 L62.8,87.3 L62.8,88.4 L62.8,89.5 L62.8,90.6 L62.9,91.6 L62.9,92.7 L62.9,93.8 L62.9,94.9 L63.0,96.0 L63.0,97.1 L63.0,98.1 L63.0,99.2 L63.1,100.3 L63.1,101.4 L63.1,102.5 L63.1,103.6 L63.2,104.7 L63.2,105.8 L63.2,106.9 L63.3,108.0 L63.3,109.1 L63.3,110.1 L63.4,111.2 L63.4,112.3 L63.5,113.4 L63.5,114.5 L63.5,115.6 L63.6,116.7 L63.6,117.8 L63.7,118.9 L63.7,120.0 L63.8,121.1 L63.8,122.2 L63.9,123.3 L64.0,124.4 L64.0,125.5 L64.1,126.6 L64.2,127.7 L64.2,128.8 L64.3,129.9 L64.4,130.9 L64.4,132.0 L64.5,133.1 L64.6,134.2 L64.7,135.3 L64.8,136.4 L64.9,137.5 L65.0,138.6 L65.1,139.7 L65.2,140.7 L65.3,141.8 L65.4,142.9 L65.5,144.0 L65.6,145.1 L65.8,146.1 L65.9,147.2 L66.0,148.3 L66.2,149.4 L66.3,150.4 L66.4,151.5 L66.6,152.6 L66.7,153.6 L66.9,154.7 L67.0,155.8 L67.2,156.8 L67.4,157.9 L67.6,158.9 L67.7,160.0 L67.9,161.1 L68.1,162.1 L68.3,163.1 L68.5,164.2 L68.7,165.2 L68.9,166.3 L69.1,167.3 L69.3,168.4 L69.6,169.4 L69.8,170.4 L70.0,171.4 L70.3,172.5 L70.5,173.5 L70.8,174.5 L71.0,175.5 L71.3,176.5 L71.6,177.6 L71.9,178.6 L72.2,179.6 L72.4,180.6 L72.7,181.6 L73.0,182.6 L73.4,183.5 L73.7,184.5 L74.0,185.5 L74.3,186.5 L74.7,187.5 L75.0,188.4 L75.4,189.4 L75.7,190.4 L76.1,191.3 L76.5,192.3 L76.8,193.3 L77.2,194.2 L77.6,195.2 L78.0,196.1 L78.4,197.0 L78.9,198.0 L79.3,198.9 L79.7,199.8 L80.1,200.7 L80.6,201.7 L81.1,202.6 L81.5,203.5 L82.0,204.4 L82.5,205.3 L83.0,206.2 L83.4,207.1 L83.9,208.0 L84.5,208.8 L85.0,209.7 L85.5,210.6 L86.0,211.4 L86.6,212.3 L87.1,213.2 L87.7,214.0 L88.2,214.9 L88.8,215.7 L89.4,216.5 L90.0,217.4 L90.5,218.2 L91.1,219.0 L91.7,219.8 L92.4,220.7 L93.0,221.5 L93.6,222.3 L94.2,223.1 L94.9,223.8 L95.5,224.6 L96.2,225.4 L96.9,226.2 L97.5,227.0 L98.2,227.7 L98.9,228.5 L99.6,229.2 L100.3,230.0 L101.0,230.7 L101.7,231.5 L102.4,232.2 L103.2,232.9 L103.9,233.6 L104.6,234.4 L105.4,235.1 L106.1,235.8 L106.9,236.5 L107.6,237.2 L108.4,237.9 L109.2,238.6 L110.0,239.3 L110.8,239.9 L111.5,240.6 L112.3,241.3 L113.1,241.9 L114.0,242.6 L114.8,243.3 L115.6,243.9 L116.4,244.6 L117.2,245.2 L118.1,245.8 L118.9,246.5 L119.7,247.1 L120.6,247.7 L121.4,248.3 L122.3,248.9 L123.2,249.6 L124.0,250.2 L124.9,250.8 L125.8,251.4 L126.6,251.9 L127.5,252.5 L128.4,253.1 L129.3,253.7 L130.2,254.3 L131.1,254.8 L132.0,255.4 L132.9,256.0 L133.8,256.5 L134.7,257.1 L135.6,257.7 L136.5,258.2 L137.4,258.8 L138.4,259.3 L139.3,259.8 L140.2,260.4 L141.1,260.9 L142.1,261.4 L143.0,262.0 L143.9,262.5 L144.9,263.0 L145.8,263.5 L146.7,264.0 L147.7,264.6 L148.6,265.1 L149.6,265.6 L150.5,266.1 L151.5,266.6 L152.4,267.1 L153.4,267.6 L154.3,268.1 L155.3,268.6 L156.3,269.0 L157.2,269.5 L158.2,270.0 L159.1,270.5 L160.1,271.0 L161.1,271.5 L162.0,271.9 L163.0,272.4 L163.9,272.9 L164.9,273.3 L165.9,273.8 L166.8,274.3 L167.8,274.7 L168.8,275.2 L169.7,275.7 L170.7,276.1 L171.7,276.6 L172.6,277.0 L173.6,277.5 L174.6,277.9 L175.6,278.4 L176.5,278.8 L177.5,279.2 L178.5,279.7 L179.5,280.1 L180.4,280.5 L181.4,281.0 L182.4,281.4 L183.4,281.8 L184.3,282.3 L185.3,282.7 L186.3,283.1 L187.3,283.5 L188.3,283.9 L189.3,284.3 L190.2,284.8 L191.2,285.2 L192.2,285.6 L193.2,286.0 L194.2,286.4 L195.2,286.8 L196.2,287.2 L197.1,287.6 L198.1,288.0 L199.1,288.3 L200.1,288.7 L201.1,289.1 L202.1,289.5 L203.1,289.9 L204.1,290.3 L205.1,290.6 L206.1,291.0 L207.1,291.4 L208.1,291.7 L209.1,292.1 L210.1,292.5 L211.0,292.8 L212.0,293.2 L213.0,293.5 L214.0,293.9 L215.0,294.2 L216.0,294.6 L217.0,294.9 L218.0,295.3 L219.0,295.6 L220.1,296.0 L221.1,296.3 L222.1,296.6 L223.1,297.0 L224.1,297.3 L225.1,297.6 L226.1,297.9 L227.1,298.3 L228.1,298.6 L229.1,298.9 L230.1,299.2 L231.1,299.5 L232.1,299.8 L233.1,300.1 L234.2,300.4 L235.2,300.7 L236.2,301.0 L237.2,301.3 L238.2,301.6 L239.2,301.9 L240.2,302.2 L241.2,302.5 L242.3,302.8 L243.3,303.0 L244.3,303.3 L245.3,303.6 L246.3,303.9 L247.3,304.1 L248.4,304.4 L249.4,304.7 L250.4,304.9 L251.4,305.2 L252.4,305.4 L253.5,305.7 L254.5,305.9 L255.5,306.2 L256.5,306.4 L257.6,306.7 L258.6,306.9 L259.6,307.2 L260.6,307.4 L261.6,307.6 L262.7,307.9 L263.7,308.1 L264.7,308.3 L265.8,308.5 L266.8,308.7 L267.8,309.0 L268.8,309.2 L269.9,309.4 L270.9,309.6 L271.9,309.8 L273.0,310.0 L274.0,310.2 L275.0,310.4 L276.0,310.6 L277.1,310.8 L278.1,311.0 L279.1,311.2 L280.2,311.4 L281.2,311.5 L282.2,311.7 L283.3,311.9 L284.3,312.1 L285.3,312.2 L286.4,312.4 L287.4,312.6 L288.5,312.8 L289.5,312.9 L290.5,313.1 L291.6,313.2 L292.6,313.4 L293.6,313.6 L294.7,313.7 L295.7,313.9 L296.8,314.0 L297.8,314.2 L298.8,314.3 L299.9,314.4 L300.9,314.6 L302.0,314.7 L303.0,314.9 L304.0,315.0 L305.1,315.1 L306.1,315.3 L307.2,315.4 L308.2,315.5 L309.2,315.6 L310.3,315.8 L311.3,315.9 L312.4,316.0 L313.4,316.1 L314.5,316.2 L315.5,316.3 L316.6,316.5 L317.6,316.6 L318.7,316.7 L319.7,316.8 L320.7,316.9 L321.8,317.0 L322.8,317.1 L323.9,317.2 L324.9,317.3 L326.0,317.4 L327.0,317.5 L328.1,317.6 L329.1,317.7 L330.2,317.7 L331.2,317.8 L332.3,317.9 L333.3,318.0 L334.4,318.1 L335.4,318.2 L336.5,318.2 L337.5,318.3 L338.6,318.4 L339.6,318.5 L340.7,318.5 L341.7,318.6 L342.8,318.7 L343.8,318.8 L344.9,318.8 L345.9,318.9 L347.0,318.9 L348.1,319.0 L349.1,319.1 L350.2,319.1 L351.2,319.2 L352.3,319.3 L353.3,319.3 L354.4,319.4 L355.4,319.4 L356.5,319.5 L357.5,319.5 L358.6,319.6 L359.7,319.6 L360.7,319.7 L361.8,319.7 L362.8,319.8 L363.9,319.8 L364.9,319.8 L366.0,319.9 L367.0,319.9 L368.1,320.0 L369.2,320.0 L370.2,320.0 L371.3,320.1 L372.3,320.1 L373.4,320.2 L374.4,320.2 L375.5,320.2 L376.6,320.3 L377.6,320.3 L378.7,320.3 L379.7,320.3 L380.8,320.4 L381.9,320.4 L382.9,320.4 L384.0,320.5 L385.0,320.5 L386.1,320.5 L387.1,320.5 L388.2,320.5 L389.3,320.6 L390.3,320.6 L391.4,320.6 L392.4,320.6 L393.5,320.7 L394.6,320.7 L395.6,320.7 L396.7,320.7 L397.7,320.7 L398.8,320.7 L399.9,320.8 L400.9,320.8 L402.0,320.8 L403.0,320.8 L404.1,320.8 L405.2,320.8 L406.2,320.8 L407.3,320.8 L408.3,320.9 L409.4,320.9 L410.5,320.9 L411.5,320.9 L412.6,320.9 L413.6,320.9 L414.7,320.9 L415.8,320.9 L416.8,320.9 L417.9,320.9 L418.9,320.9 L420.0,321.0 L421.1,321.0 L422.1,321.0 L423.2,321.0 L424.3,321.0 L425.3,321.0 L426.4,321.0 L427.4,321.0 L428.5,321.0 L429.6,321.0 L430.6,321.0 L431.7,321.0 L432.7,321.0 L433.8,321.0 L434.9,321.0 L435.9,321.0 L437.0,321.0 L438.0,321.0 L439.1,321.1 L440.2,321.1 L441.2,321.1 L442.3,321.1 L443.3,321.1 L444.4,321.1 L445.5,321.1 L446.5,321.1 L447.6,321.1 L448.6,321.1 L449.7,321.1 L450.8,321.1 L451.8,321.1 L452.9,321.1 L453.9,321.1 L455.0,321.1 L456.1,321.1 L457.1,321.1 L458.2,321.2 L459.2,321.2 L460.3,321.2 L461.4,321.2 L462.4,321.2 L463.5,321.2 L464.5,321.2 L465.6,321.2 L466.6,321.2 L467.7,321.2 L468.8,321.3 L469.8,321.3 L470.9,321.3 L471.9,321.3 L473.0,321.3 L474.0,321.3 L475.1,321.3 L476.2,321.3 L477.2,321.4 L478.3,321.4 L479.3,321.4 L480.4,321.4 L481.4,321.4 L482.5,321.4 L483.5,321.5 L484.6,321.5 L485.7,321.5 L486.7,321.5 L487.8,321.6 L488.8,321.6 L489.9,321.6 L490.9,321.6 L492.0,321.6 L493.0,321.7 L494.1,321.7 L495.1,321.7 L496.2,321.8 L497.3,321.8 L498.3,321.8 L499.4,321.9 L500.4,321.9 L501.5,321.9 L502.5,322.0 L503.6,322.0 L504.6,322.0 L505.7,322.1 L506.7,322.1 L507.8,322.1 L508.8,322.2 L509.9,322.2 L510.9,322.3 L512.0,322.3 L513.0,322.4" fill="none" stroke="#22dd22" stroke-width="2.6"/><path d="M60.3,40.4 L60.4,41.4 L60.5,42.3" fill="none" stroke="#22dd22" stroke-width="1.6"/><path d="M60.8,337.2 L62.9,140.6 L63.4,96.9 L64.6,83.1 L64.5,84.1 L64.5,85.0 L64.5,86.0 L64.4,87.0 L64.4,87.9 L64.4,88.9 L64.3,89.9 L64.3,90.8 L64.3,91.8 L64.3,92.8 L64.2,93.8 L64.2,94.7 L64.2,95.7 L64.2,96.7 L64.2,97.7 L64.2,98.7 L64.2,99.7 L64.2,100.6 L64.2,101.6 L64.2,102.6 L64.2,103.6 L64.2,104.6 L64.2,105.6 L64.2,106.6 L64.2,107.6 L64.2,108.6 L64.2,109.6 L64.2,110.6 L64.2,111.6 L64.3,112.6 L64.3,113.6 L64.3,114.6 L64.4,115.6 L64.4,116.6 L64.4,117.6 L64.5,118.6 L64.5,119.6 L64.6,120.6 L64.6,121.6 L64.7,122.6 L64.7,123.6 L64.8,124.7 L64.8,125.7 L64.9,126.7 L65.0,127.7 L65.0,128.7 L65.1,129.7 L65.2,130.7 L65.3,131.7 L65.4,132.7 L65.4,133.7 L65.5,134.7 L65.6,135.7 L65.7,136.7 L65.8,137.7 L65.9,138.7 L66.0,139.7 L66.2,140.7 L66.3,141.7 L66.4,142.7 L66.5,143.7 L66.7,144.7 L66.8,145.7 L66.9,146.7 L67.1,147.7 L67.2,148.7 L67.4,149.7 L67.5,150.7 L67.7,151.7 L67.8,152.7 L68.0,153.7 L68.2,154.7 L68.3,155.7 L68.5,156.6 L68.7,157.6 L68.9,158.6 L69.1,159.6 L69.3,160.6 L69.5,161.5 L69.7,162.5 L69.9,163.5 L70.1,164.5 L70.3,165.4 L70.5,166.4 L70.7,167.4 L71.0,168.3 L71.2,169.3 L71.5,170.2 L71.7,171.2 L71.9,172.2 L72.2,173.1 L72.5,174.1 L72.7,175.0 L73.0,175.9 L73.3,176.9 L73.6,177.8 L73.8,178.8 L74.1,179.7 L74.4,180.6 L74.7,181.6 L75.0,182.5 L75.3,183.4 L75.7,184.3 L76.0,185.2 L76.3,186.1 L76.6,187.1 L77.0,188.0 L77.3,188.9 L77.7,189.8 L78.0,190.7 L78.4,191.6 L78.8,192.4 L79.1,193.3 L79.5,194.2 L79.9,195.1 L80.3,196.0 L80.7,196.8 L81.1,197.7 L81.5,198.6 L81.9,199.4 L82.3,200.3 L82.7,201.1 L83.2,202.0 L83.6,202.8 L84.0,203.7 L84.5,204.5 L84.9,205.3 L85.4,206.2 L85.9,207.0 L86.3,207.8 L86.8,208.6 L87.3,209.4 L87.8,210.2 L88.3,211.0 L88.8,211.8 L89.3,212.6 L89.8,213.4 L90.4,214.2 L90.9,214.9 L91.4,215.7 L92.0,216.5 L92.5,217.2 L93.1,218.0 L93.7,218.8 L94.2,219.5 L94.8,220.2 L95.4,221.0 L96.0,221.7 L96.6,222.4 L97.2,223.2 L97.8,223.9 L98.4,224.6 L99.0,225.3 L99.6,226.0 L100.3,226.7 L100.9,227.4 L101.6,228.1 L102.2,228.8 L102.9,229.5 L103.5,230.1 L104.2,230.8 L104.8,231.5 L105.5,232.2 L106.2,232.8 L106.9,233.5 L107.6,234.1 L108.3,234.8 L109.0,235.4 L109.7,236.1 L110.4,236.7 L111.1,237.3 L111.8,238.0 L112.5,238.6 L113.3,239.2 L114.0,239.8 L114.7,240.4 L115.5,241.0 L116.2,241.7 L117.0,242.3 L117.7,242.9 L118.5,243.4 L119.3,244.0 L120.0,244.6 L120.8,245.2 L121.6,245.8 L122.3,246.4 L123.1,246.9 L123.9,247.5 L124.7,248.1 L125.5,248.6 L126.3,249.2 L127.1,249.8 L127.9,250.3 L128.7,250.9 L129.5,251.4 L130.3,251.9 L131.2,252.5 L132.0,253.0 L132.8,253.6 L133.6,254.1 L134.5,254.6 L135.3,255.1 L136.1,255.7 L137.0,256.2 L137.8,256.7 L138.7,257.2 L139.5,257.7 L140.3,258.2 L141.2,258.7 L142.1,259.2 L142.9,259.7 L143.8,260.2 L144.6,260.7 L145.5,261.2 L146.4,261.7 L147.2,262.2 L148.1,262.6 L149.0,263.1 L149.8,263.6 L150.7,264.1 L151.6,264.5 L152.5,265.0 L153.4,265.5 L154.2,265.9 L155.1,266.4 L156.0,266.8 L156.9,267.3 L157.8,267.8 L158.7,268.2 L159.6,268.7 L160.5,269.1 L161.3,269.5 L162.2,270.0 L163.1,270.4 L164.0,270.9 L164.9,271.3 L165.8,271.7 L166.7,272.2 L167.6,272.6 L168.5,273.0 L169.4,273.4 L170.3,273.9 L171.2,274.3 L172.1,274.7 L173.0,275.1 L173.9,275.5 L174.8,276.0 L175.7,276.4 L176.6,276.8 L177.6,277.2 L178.5,277.6 L179.4,278.0 L180.3,278.4 L181.2,278.8 L182.1,279.2 L183.0,279.6 L183.9,280.0 L184.8,280.4 L185.7,280.8 L186.6,281.2 L187.5,281.6 L188.5,281.9 L189.4,282.3 L190.3,282.7 L191.2,283.1 L192.1,283.5 L193.0,283.8 L193.9,284.2 L194.8,284.6 L195.8,285.0 L196.7,285.3 L197.6,285.7 L198.5,286.1 L199.4,286.4 L200.3,286.8 L201.3,287.1 L202.2,287.5 L203.1,287.9 L204.0,288.2 L204.9,288.6 L205.8,288.9 L206.8,289.3 L207.7,289.6 L208.6,289.9 L209.5,290.3 L210.5,290.6 L211.4,291.0 L212.3,291.3 L213.2,291.6 L214.1,292.0 L215.1,292.3 L216.0,292.6 L216.9,292.9 L217.8,293.3 L218.8,293.6 L219.7,293.9 L220.6,294.2 L221.6,294.5 L222.5,294.9 L223.4,295.2 L224.3,295.5 L225.3,295.8 L226.2,296.1 L227.1,296.4 L228.1,296.7 L229.0,297.0 L229.9,297.3 L230.9,297.6 L231.8,297.9 L232.7,298.2 L233.7,298.5 L234.6,298.7 L235.5,299.0 L236.5,299.3 L237.4,299.6 L238.3,299.9 L239.3,300.2 L240.2,300.4 L241.1,300.7 L242.1,301.0 L243.0,301.2 L243.9,301.5 L244.9,301.8 L245.8,302.0 L246.8,302.3 L247.7,302.6 L248.6,302.8 L249.6,303.1 L250.5,303.3 L251.5,303.6 L252.4,303.8 L253.4,304.1 L254.3,304.3 L255.2,304.6 L256.2,304.8 L257.1,305.1 L258.1,305.3 L259.0,305.5 L260.0,305.8 L260.9,306.0 L261.8,306.2 L262.8,306.4 L263.7,306.7 L264.7,306.9 L265.6,307.1 L266.6,307.3 L267.5,307.6 L268.5,307.8 L269.4,308.0 L270.4,308.2 L271.3,308.4 L272.3,308.6 L273.2,308.8 L274.2,309.0 L275.1,309.2 L276.1,309.4 L277.0,309.6 L278.0,309.8 L278.9,310.0 L279.9,310.2 L280.9,310.4 L281.8,310.6 L282.8,310.7 L283.7,310.9 L284.7,311.1 L285.6,311.3 L286.6,311.5 L287.5,311.6 L288.5,311.8 L289.5,312.0 L290.4,312.1 L291.4,312.3 L292.3,312.5 L293.3,312.6 L294.2,312.8 L295.2,313.0 L296.2,313.1 L297.1,313.3 L298.1,313.4 L299.0,313.6 L300.0,313.7 L301.0,313.9 L301.9,314.0 L302.9,314.1 L303.9,314.3 L304.8,314.4 L305.8,314.6 L306.7,314.7 L307.7,314.8 L308.7,315.0 L309.6,315.1 L310.6,315.2 L311.6,315.3 L312.5,315.5 L313.5,315.6 L314.5,315.7 L315.4,315.8 L316.4,315.9 L317.4,316.1 L318.3,316.2 L319.3,316.3 L320.3,316.4 L321.2,316.5 L322.2,316.6 L323.2,316.7 L324.1,316.8 L325.1,316.9 L326.1,317.0 L327.1,317.1 L328.0,317.2 L329.0,317.3 L330.0,317.4 L330.9,317.5 L331.9,317.6 L332.9,317.7 L333.9,317.8 L334.8,317.8 L335.8,317.9 L336.8,318.0 L337.7,318.1 L338.7,318.2 L339.7,318.3 L340.7,318.3 L341.6,318.4 L342.6,318.5 L343.6,318.6 L344.6,318.6 L345.5,318.7 L346.5,318.8 L347.5,318.8 L348.5,318.9 L349.4,319.0 L350.4,319.0 L351.4,319.1 L352.4,319.2 L353.3,319.2 L354.3,319.3 L355.3,319.4 L356.3,319.4 L357.2,319.5 L358.2,319.5 L359.2,319.6 L360.2,319.6 L361.2,319.7 L362.1,319.7 L363.1,319.8 L364.1,319.8 L365.1,319.9 L366.0,319.9 L367.0,320.0 L368.0,320.0 L369.0,320.1 L370.0,320.1 L370.9,320.1 L371.9,320.2 L372.9,320.2 L373.9,320.3 L374.9,320.3 L375.8,320.3 L376.8,320.4 L377.8,320.4 L378.8,320.4 L379.8,320.5 L380.7,320.5 L381.7,320.5 L382.7,320.6 L383.7,320.6 L384.7,320.6 L385.6,320.7 L386.6,320.7 L387.6,320.7 L388.6,320.7 L389.6,320.8 L390.6,320.8 L391.5,320.8 L392.5,320.8 L393.5,320.9 L394.5,320.9 L395.5,320.9 L396.4,320.9 L397.4,321.0 L398.4,321.0 L399.4,321.0 L400.4,321.0 L401.4,321.0 L402.3,321.0 L403.3,321.1 L404.3,321.1 L405.3,321.1 L406.3,321.1 L407.3,321.1 L408.2,321.1 L409.2,321.2 L410.2,321.2 L411.2,321.2 L412.2,321.2 L413.2,321.2 L414.1,321.2 L415.1,321.2 L416.1,321.2 L417.1,321.3 L418.1,321.3 L419.0,321.3 L420.0,321.3 L421.0,321.3 L422.0,321.3 L423.0,321.3 L424.0,321.3 L424.9,321.3 L425.9,321.3 L426.9,321.4 L427.9,321.4 L428.9,321.4 L429.9,321.4 L430.8,321.4 L431.8,321.4 L432.8,321.4 L433.8,321.4 L434.8,321.4 L435.8,321.4 L436.7,321.4 L437.7,321.4 L438.7,321.4 L439.7,321.4 L440.7,321.5 L441.7,321.5 L442.6,321.5 L443.6,321.5 L444.6,321.5 L445.6,321.5 L446.6,321.5 L447.5,321.5 L448.5,321.5 L449.5,321.5 L450.5,321.5 L451.5,321.5 L452.5,321.5 L453.4,321.6 L454.4,321.6 L455.4,321.6 L456.4,321.6 L457.4,321.6 L458.3,321.6 L459.3,321.6 L460.3,321.6 L461.3,321.6 L462.3,321.6 L463.2,321.6 L464.2,321.7 L465.2,321.7 L466.2,321.7 L467.2,321.7 L468.1,321.7 L469.1,321.7 L470.1,321.7 L471.1,321.7 L472.1,321.8 L473.0,321.8 L474.0,321.8 L475.0,321.8 L476.0,321.8 L476.9,321.8 L477.9,321.8 L478.9,321.9 L479.9,321.9 L480.9,321.9 L481.8,321.9 L482.8,321.9 L483.8,322.0 L484.8,322.0 L485.7,322.0 L486.7,322.0 L487.7,322.0 L488.7,322.1 L489.7,322.1 L490.6,322.1 L491.6,322.1 L492.6,322.2 L493.6,322.2 L494.5,322.2 L495.5,322.2 L496.5,322.3 L497.5,322.3 L498.4,322.3 L499.4,322.4 L500.4,322.4 L501.3,322.4 L502.3,322.4 L503.3,322.5 L504.3,322.5 L505.2,322.6 L506.2,322.6 L507.2,322.6 L508.2,322.7 L509.1,322.7 L510.1,322.7 L511.1,322.8 L512.0,322.8 L513.0,322.9" fill="none" stroke="#1f2fc8" stroke-width="2.2" stroke-dasharray="3.3,2.2"/><path d="M60.0,337.2 L61.7,336.5 L63.5,335.8 L65.2,335.2 L67.0,334.6 L68.7,334.0 L70.5,333.5 L72.2,332.9 L74.0,332.5 L75.7,332.0 L77.5,331.6 L79.2,331.3 L81.0,331.0 L82.7,330.8 L84.5,330.6 L86.2,330.3 L88.0,329.9 L89.7,329.8 L91.5,329.4 L93.2,329.4 L95.0,329.2 L96.7,328.7 L98.5,328.7 L100.2,328.8 L102.0,328.5 L103.7,328.2 L105.5,327.7 L107.2,327.9 L109.0,327.7 L110.7,327.2 L112.5,327.3 L114.2,326.9 L116.0,326.4 L117.7,326.2 L119.5,326.1 L121.2,325.7 L123.0,326.1 L124.7,325.1 L126.5,325.3 L128.2,325.2 L130.0,324.6 L131.7,324.3 L133.5,324.3 L135.2,324.3 L137.0,323.9 L138.7,323.8 L140.5,323.4 L142.2,323.5 L144.0,323.5 L145.7,323.2 L147.5,323.4 L149.2,323.5 L150.9,323.1 L152.7,323.0 L154.4,323.1 L156.2,323.2 L157.9,322.9 L159.7,323.4 L161.4,322.7 L163.2,322.7 L164.9,323.1 L166.7,322.7 L168.4,322.9 L170.2,322.5 L171.9,323.0 L173.7,322.7 L175.4,322.3 L177.2,322.2 L178.9,322.8 L180.7,322.5 L182.4,322.2 L184.2,322.4 L185.9,321.9 L187.7,322.4 L189.4,322.1 L191.2,322.3 L192.9,321.8 L194.7,322.0 L196.4,322.0 L198.2,322.3 L199.9,321.5 L201.7,321.7 L203.4,321.6 L205.2,321.5 L206.9,321.6 L208.7,321.8 L210.4,321.8 L212.2,321.7 L213.9,321.3 L215.7,321.8 L217.4,321.6 L219.2,321.5 L220.9,321.4 L222.7,321.3 L224.4,321.6 L226.2,321.7 L227.9,321.3 L229.7,321.0 L231.4,321.1 L233.2,321.2 L234.9,321.3 L236.7,321.2 L238.4,321.3 L240.2,321.0 L241.9,321.4 L243.6,321.2 L245.4,321.2 L247.1,321.1 L248.9,321.1 L250.6,320.6 L252.4,320.9 L254.1,320.8 L255.9,321.6 L257.6,321.2 L259.4,321.3 L261.1,321.0 L262.9,321.6 L264.6,320.9 L266.4,320.9 L268.1,321.4 L269.9,321.3 L271.6,321.3 L273.4,321.1 L275.1,321.0 L276.9,320.7 L278.6,321.1 L280.4,320.9 L282.1,321.0 L283.9,320.7 L285.6,320.9 L287.4,320.8 L289.1,321.3 L290.9,321.1 L292.6,321.2 L294.4,320.7 L296.1,320.9 L297.9,321.1 L299.6,321.1 L301.4,320.9 L303.1,321.2 L304.9,321.2 L306.6,320.9 L308.4,320.5 L310.1,321.1 L311.9,321.1 L313.6,321.3 L315.4,321.3 L317.1,320.9 L318.9,320.9 L320.6,321.0 L322.4,321.0 L324.1,321.0 L325.9,321.0 L327.6,321.4 L329.4,321.1 L331.1,321.0 L332.8,321.2 L334.6,321.2 L336.3,321.3 L338.1,321.2 L339.8,321.0 L341.6,321.2 L343.3,321.2 L345.1,321.0 L346.8,321.1 L348.6,320.9 L350.3,321.7 L352.1,321.1 L353.8,321.4 L355.6,321.3 L357.3,321.2 L359.1,321.2 L360.8,321.2 L362.6,321.4 L364.3,321.2 L366.1,321.6 L367.8,321.6 L369.6,321.4 L371.3,321.8 L373.1,321.2 L374.8,321.5 L376.6,321.3 L378.3,321.8 L380.1,321.9 L381.8,321.8 L383.6,321.7 L385.3,322.0 L387.1,321.9 L388.8,322.0 L390.6,321.7 L392.3,322.2 L394.1,321.9 L395.8,322.3 L397.6,322.4 L399.3,322.3 L401.1,322.5 L402.8,322.2 L404.6,322.1 L406.3,322.3 L408.1,322.2 L409.8,322.0 L411.6,322.3 L413.3,322.4 L415.1,322.5 L416.8,322.8 L418.6,322.3 L420.3,322.9 L422.1,322.4 L423.8,322.6 L425.5,322.4 L427.3,322.6 L429.0,322.8 L430.8,322.6 L432.5,322.8 L434.3,322.7 L436.0,322.7 L437.8,322.7 L439.5,322.8 L441.3,322.9 L443.0,322.8 L444.8,323.2 L446.5,322.8 L448.3,323.1 L450.0,322.6 L451.8,322.6 L453.5,323.3 L455.3,322.9 L457.0,322.9 L458.8,323.1 L460.5,322.8 L462.3,323.1 L464.0,323.3 L465.8,323.1 L467.5,323.0 L469.3,323.0 L471.0,323.3 L472.8,322.9 L474.5,322.9 L476.3,323.3 L478.0,323.2 L479.8,323.1 L481.5,323.3 L483.3,322.8 L485.0,323.1 L486.8,323.4 L488.5,323.4 L490.3,323.2 L492.0,322.8 L493.8,323.3 L495.5,323.2 L497.3,323.2 L499.0,323.3 L500.8,322.8 L502.5,323.4 L504.3,323.2 L506.0,323.3 L507.8,323.2 L509.5,323.6 L511.3,323.0 L513.0,323.4" fill="none" stroke="#1ee81e" stroke-width="3"/><path d="M60.0,337.2 L61.7,336.4 L63.5,335.7 L65.2,335.0 L67.0,334.3 L68.7,333.7 L70.5,333.0 L72.2,332.4 L74.0,331.8 L75.7,331.3 L77.5,330.8 L79.2,330.3 L81.0,329.9 L82.7,329.4 L84.5,329.4 L86.2,328.2 L88.0,328.7 L89.7,327.8 L91.5,327.7 L93.2,327.5 L95.0,327.2 L96.7,326.9 L98.5,326.4 L100.2,326.2 L102.0,325.6 L103.7,326.0 L105.5,325.4 L107.2,325.3 L109.0,324.7 L110.7,325.0 L112.5,324.4 L114.2,324.0 L116.0,324.1 L117.7,323.3 L119.5,323.3 L121.2,322.9 L123.0,322.6 L124.7,322.8 L126.5,322.5 L128.2,322.2 L130.0,321.8 L131.7,321.6 L133.5,321.8 L135.2,321.6 L137.0,321.5 L138.7,321.4 L140.5,321.2 L142.2,321.1 L144.0,320.6 L145.7,321.1 L147.5,320.9 L149.2,320.7 L150.9,321.0 L152.7,320.8 L154.4,320.6 L156.2,320.4 L157.9,320.8 L159.7,320.2 L161.4,320.5 L163.2,320.4 L164.9,320.2 L166.7,320.2 L168.4,320.1 L170.2,320.2 L171.9,320.2 L173.7,320.1 L175.4,320.3 L177.2,319.9 L178.9,320.2 L180.7,320.3 L182.4,319.5 L184.2,319.9 L185.9,320.1 L187.7,319.4 L189.4,319.8 L191.2,319.5 L192.9,319.8 L194.7,319.7 L196.4,319.9 L198.2,319.9 L199.9,319.6 L201.7,319.4 L203.4,319.2 L205.2,318.8 L206.9,319.5 L208.7,319.0 L210.4,319.3 L212.2,319.1 L213.9,319.4 L215.7,319.3 L217.4,319.1 L219.2,319.2 L220.9,318.9 L222.7,319.0 L224.4,318.6 L226.2,318.8 L227.9,318.7 L229.7,318.5 L231.4,318.6 L233.2,318.7 L234.9,318.7 L236.7,318.7 L238.4,318.5 L240.2,318.5 L241.9,318.6 L243.6,318.5 L245.4,318.8 L247.1,318.6 L248.9,319.0 L250.6,318.4 L252.4,318.7 L254.1,318.7 L255.9,318.6 L257.6,318.7 L259.4,318.8 L261.1,318.5 L262.9,318.7 L264.6,318.9 L266.4,318.7 L268.1,319.1 L269.9,318.4 L271.6,318.8 L273.4,318.8 L275.1,318.4 L276.9,318.4 L278.6,318.8 L280.4,318.7 L282.1,318.6 L283.9,318.5 L285.6,318.9 L287.4,318.9 L289.1,318.7 L290.9,318.9 L292.6,318.8 L294.4,318.8 L296.1,319.2 L297.9,319.2 L299.6,319.5 L301.4,319.1 L303.1,318.8 L304.9,319.3 L306.6,318.8 L308.4,318.9 L310.1,319.1 L311.9,319.1 L313.6,319.1 L315.4,319.3 L317.1,319.2 L318.9,319.2 L320.6,319.1 L322.4,319.0 L324.1,319.4 L325.9,319.1 L327.6,319.4 L329.4,319.3 L331.1,319.2 L332.8,319.3 L334.6,319.4 L336.3,319.3 L338.1,319.5 L339.8,319.5 L341.6,319.5 L343.3,319.3 L345.1,319.5 L346.8,319.1 L348.6,319.5 L350.3,320.1 L352.1,319.7 L353.8,319.3 L355.6,319.6 L357.3,319.7 L359.1,319.9 L360.8,319.4 L362.6,319.5 L364.3,319.6 L366.1,319.7 L367.8,319.5 L369.6,319.7 L371.3,320.1 L373.1,319.8 L374.8,319.9 L376.6,320.0 L378.3,319.9 L380.1,320.0 L381.8,320.7 L383.6,319.8 L385.3,319.9 L387.1,320.2 L388.8,320.3 L390.6,320.2 L392.3,320.5 L394.1,320.2 L395.8,320.3 L397.6,320.4 L399.3,320.5 L401.1,320.5 L402.8,320.2 L404.6,320.2 L406.3,320.4 L408.1,320.5 L409.8,320.7 L411.6,320.4 L413.3,320.2 L415.1,320.9 L416.8,320.4 L418.6,321.1 L420.3,320.7 L422.1,320.6 L423.8,321.0 L425.5,321.0 L427.3,320.7 L429.0,320.6 L430.8,320.9 L432.5,320.6 L434.3,321.0 L436.0,320.5 L437.8,320.9 L439.5,320.9 L441.3,320.8 L443.0,320.9 L444.8,320.6 L446.5,320.5 L448.3,320.9 L450.0,321.1 L451.8,321.3 L453.5,321.2 L455.3,321.1 L457.0,321.1 L458.8,321.1 L460.5,321.2 L462.3,321.1 L464.0,321.5 L465.8,321.4 L467.5,321.0 L469.3,321.1 L471.0,321.4 L472.8,321.0 L474.5,321.4 L476.3,321.4 L478.0,321.7 L479.8,321.2 L481.5,321.4 L483.3,321.2 L485.0,321.3 L486.8,321.4 L488.5,321.4 L490.3,321.2 L492.0,321.5 L493.8,321.5 L495.5,321.5 L497.3,321.4 L499.0,321.4 L500.8,321.2 L502.5,321.6 L504.3,321.4 L506.0,321.8 L507.8,321.5 L509.5,321.6 L511.3,321.3 L513.0,321.6" fill="none" stroke="#33ee33" stroke-width="2.2" stroke-dasharray="4,2.8"/><path d="M60.5,23.0 L60.6,23.9 L60.7,24.9 L60.7,25.8 L60.8,26.8 L60.8,27.8 L60.9,28.7 L61.0,29.7 L61.0,30.7 L61.1,31.6 L61.1,32.6 L61.2,33.6 L61.2,34.6 L61.3,35.6 L61.3,36.6 L61.4,37.6 L61.4,38.6 L61.5,39.6 L61.5,40.6 L61.5,41.6 L61.6,42.6 L61.6,43.6 L61.7,44.6 L61.7,45.6 L61.7,46.7 L61.8,47.7 L61.8,48.7 L61.8,49.8 L61.9,50.8 L61.9,51.8 L62.0,52.9 L62.0,53.9 L62.0,55.0 L62.1,56.0 L62.1,57.1 L62.1,58.1 L62.2,59.2 L62.2,60.2 L62.2,61.3 L62.3,62.4 L62.3,63.4 L62.4,64.5 L62.4,65.6 L62.4,66.6 L62.5,67.7 L62.5,68.8 L62.5,69.9 L62.6,70.9 L62.6,72.0 L62.7,73.1 L62.7,74.2 L62.7,75.3 L62.8,76.4 L62.8,77.5 L62.9,78.5 L62.9,79.6 L63.0,80.7 L63.0,81.8 L63.1,82.9 L63.1,84.0 L63.2,85.1 L63.2,86.2 L63.3,87.3 L63.3,88.4 L63.4,89.5 L63.5,90.6 L63.5,91.7 L63.6,92.8 L63.7,93.9 L63.7,95.0 L63.8,96.1 L63.9,97.2 L63.9,98.3 L64.0,99.4 L64.1,100.5 L64.2,101.6 L64.3,102.8 L64.3,103.9 L64.4,105.0 L64.5,106.1 L64.6,107.2 L64.7,108.3 L64.8,109.4 L64.9,110.5 L65.0,111.6 L65.1,112.7 L65.2,113.8 L65.3,114.9 L65.4,116.0 L65.6,117.1 L65.7,118.2 L65.8,119.3 L65.9,120.4 L66.0,121.5 L66.2,122.6 L66.3,123.7 L66.5,124.8 L66.6,125.9 L66.7,127.0 L66.9,128.1 L67.0,129.2 L67.2,130.3 L67.4,131.4 L67.5,132.5 L67.7,133.6 L67.9,134.6 L68.0,135.7 L68.2,136.8 L68.4,137.9 L68.6,139.0 L68.8,140.1 L69.0,141.1 L69.2,142.2 L69.4,143.3 L69.6,144.4 L69.8,145.4 L70.0,146.5 L70.2,147.6 L70.5,148.6 L70.7,149.7 L70.9,150.7 L71.2,151.8 L71.4,152.9 L71.7,153.9 L71.9,155.0 L72.2,156.0 L72.5,157.0 L72.7,158.1 L73.0,159.1 L73.3,160.2 L73.6,161.2 L73.9,162.2 L74.2,163.3 L74.5,164.3 L74.8,165.3 L75.1,166.3 L75.4,167.3 L75.7,168.4 L76.1,169.4 L76.4,170.4 L76.7,171.4 L77.1,172.4 L77.4,173.4 L77.8,174.4 L78.2,175.3 L78.5,176.3 L78.9,177.3 L79.3,178.3 L79.7,179.3 L80.1,180.2 L80.5,181.2 L80.9,182.2 L81.3,183.1 L81.7,184.1 L82.2,185.0 L82.6,186.0 L83.0,186.9 L83.5,187.9 L83.9,188.8 L84.4,189.7 L84.9,190.6 L85.3,191.6 L85.8,192.5 L86.3,193.4 L86.8,194.3 L87.3,195.2 L87.8,196.1 L88.4,197.0 L88.9,197.9 L89.4,198.8 L90.0,199.6 L90.5,200.5 L91.1,201.4 L91.6,202.2 L92.2,203.1 L92.8,204.0 L93.4,204.8 L94.0,205.6 L94.6,206.5 L95.2,207.3 L95.8,208.1 L96.4,209.0 L97.0,209.8 L97.7,210.6 L98.3,211.4 L98.9,212.2 L99.6,213.0 L100.3,213.8 L100.9,214.6 L101.6,215.4 L102.3,216.2 L103.0,216.9 L103.7,217.7 L104.3,218.5 L105.1,219.3 L105.8,220.0 L106.5,220.8 L107.2,221.5 L107.9,222.3 L108.7,223.0 L109.4,223.7 L110.1,224.5 L110.9,225.2 L111.6,225.9 L112.4,226.6 L113.2,227.4 L113.9,228.1 L114.7,228.8 L115.5,229.5 L116.3,230.2 L117.1,230.9 L117.9,231.6 L118.7,232.3 L119.5,232.9 L120.3,233.6 L121.1,234.3 L121.9,235.0 L122.7,235.6 L123.6,236.3 L124.4,236.9 L125.2,237.6 L126.1,238.2 L126.9,238.9 L127.8,239.5 L128.6,240.2 L129.5,240.8 L130.3,241.4 L131.2,242.1 L132.1,242.7 L132.9,243.3 L133.8,243.9 L134.7,244.5 L135.6,245.2 L136.4,245.8 L137.3,246.4 L138.2,247.0 L139.1,247.6 L140.0,248.1 L140.9,248.7 L141.8,249.3 L142.7,249.9 L143.6,250.5 L144.5,251.1 L145.4,251.6 L146.4,252.2 L147.3,252.8 L148.2,253.3 L149.1,253.9 L150.1,254.4 L151.0,255.0 L151.9,255.5 L152.8,256.1 L153.8,256.6 L154.7,257.1 L155.7,257.7 L156.6,258.2 L157.5,258.7 L158.5,259.3 L159.4,259.8 L160.4,260.3 L161.3,260.8 L162.3,261.3 L163.2,261.9 L164.2,262.4 L165.1,262.9 L166.1,263.4 L167.1,263.9 L168.0,264.4 L169.0,264.9 L169.9,265.4 L170.9,265.8 L171.9,266.3 L172.8,266.8 L173.8,267.3 L174.7,267.8 L175.7,268.2 L176.7,268.7 L177.6,269.2 L178.6,269.6 L179.6,270.1 L180.5,270.6 L181.5,271.0 L182.5,271.5 L183.5,271.9 L184.4,272.4 L185.4,272.8 L186.4,273.3 L187.4,273.7 L188.3,274.2 L189.3,274.6 L190.3,275.0 L191.3,275.5 L192.2,275.9 L193.2,276.3 L194.2,276.7 L195.2,277.2 L196.2,277.6 L197.1,278.0 L198.1,278.4 L199.1,278.8 L200.1,279.2 L201.1,279.6 L202.1,280.0 L203.1,280.4 L204.0,280.8 L205.0,281.2 L206.0,281.6 L207.0,282.0 L208.0,282.4 L209.0,282.8 L210.0,283.2 L211.0,283.6 L212.0,283.9 L213.0,284.3 L214.0,284.7 L215.0,285.1 L216.0,285.4 L217.0,285.8 L218.0,286.1 L219.0,286.5 L220.0,286.9 L221.0,287.2 L222.0,287.6 L223.0,287.9 L224.0,288.3 L225.0,288.6 L226.0,289.0 L227.0,289.3 L228.0,289.7 L229.0,290.0 L230.0,290.3 L231.0,290.7 L232.0,291.0 L233.0,291.3 L234.0,291.6 L235.0,292.0 L236.0,292.3 L237.1,292.6 L238.1,292.9 L239.1,293.2 L240.1,293.6 L241.1,293.9 L242.1,294.2 L243.1,294.5 L244.1,294.8 L245.2,295.1 L246.2,295.4 L247.2,295.7 L248.2,296.0 L249.2,296.3 L250.3,296.6 L251.3,296.8 L252.3,297.1 L253.3,297.4 L254.3,297.7 L255.4,298.0 L256.4,298.3 L257.4,298.5 L258.4,298.8 L259.4,299.1 L260.5,299.3 L261.5,299.6 L262.5,299.9 L263.6,300.1 L264.6,300.4 L265.6,300.7 L266.6,300.9 L267.7,301.2 L268.7,301.4 L269.7,301.7 L270.7,301.9 L271.8,302.2 L272.8,302.4 L273.8,302.6 L274.9,302.9 L275.9,303.1 L276.9,303.4 L278.0,303.6 L279.0,303.8 L280.0,304.1 L281.1,304.3 L282.1,304.5 L283.1,304.7 L284.2,305.0 L285.2,305.2 L286.3,305.4 L287.3,305.6 L288.3,305.8 L289.4,306.0 L290.4,306.3 L291.5,306.5 L292.5,306.7 L293.5,306.9 L294.6,307.1 L295.6,307.3 L296.7,307.5 L297.7,307.7 L298.7,307.9 L299.8,308.1 L300.8,308.3 L301.9,308.5 L302.9,308.6 L304.0,308.8 L305.0,309.0 L306.0,309.2 L307.1,309.4 L308.1,309.6 L309.2,309.7 L310.2,309.9 L311.3,310.1 L312.3,310.3 L313.4,310.4 L314.4,310.6 L315.5,310.8 L316.5,310.9 L317.6,311.1 L318.6,311.3 L319.7,311.4 L320.7,311.6 L321.8,311.7 L322.8,311.9 L323.9,312.1 L324.9,312.2 L326.0,312.4 L327.0,312.5 L328.1,312.7 L329.1,312.8 L330.2,313.0 L331.2,313.1 L332.3,313.2 L333.4,313.4 L334.4,313.5 L335.5,313.7 L336.5,313.8 L337.6,313.9 L338.6,314.1 L339.7,314.2 L340.7,314.3 L341.8,314.4 L342.9,314.6 L343.9,314.7 L345.0,314.8 L346.0,314.9 L347.1,315.1 L348.1,315.2 L349.2,315.3 L350.3,315.4 L351.3,315.5 L352.4,315.6 L353.4,315.7 L354.5,315.9 L355.6,316.0 L356.6,316.1 L357.7,316.2 L358.7,316.3 L359.8,316.4 L360.9,316.5 L361.9,316.6 L363.0,316.7 L364.0,316.8 L365.1,316.9 L366.2,317.0 L367.2,317.1 L368.3,317.2 L369.3,317.3 L370.4,317.3 L371.5,317.4 L372.5,317.5 L373.6,317.6 L374.7,317.7 L375.7,317.8 L376.8,317.8 L377.9,317.9 L378.9,318.0 L380.0,318.1 L381.0,318.2 L382.1,318.2 L383.2,318.3 L384.2,318.4 L385.3,318.5 L386.4,318.5 L387.4,318.6 L388.5,318.7 L389.6,318.7 L390.6,318.8 L391.7,318.9 L392.8,318.9 L393.8,319.0 L394.9,319.0 L396.0,319.1 L397.0,319.2 L398.1,319.2 L399.2,319.3 L400.2,319.3 L401.3,319.4 L402.4,319.4 L403.4,319.5 L404.5,319.5 L405.6,319.6 L406.6,319.6 L407.7,319.7 L408.7,319.7 L409.8,319.8 L410.9,319.8 L411.9,319.9 L413.0,319.9 L414.1,320.0 L415.1,320.0 L416.2,320.0 L417.3,320.1 L418.3,320.1 L419.4,320.2 L420.5,320.2 L421.5,320.2 L422.6,320.3 L423.7,320.3 L424.7,320.3 L425.8,320.4 L426.9,320.4 L427.9,320.4 L429.0,320.4 L430.1,320.5 L431.1,320.5 L432.2,320.5 L433.3,320.5 L434.3,320.6 L435.4,320.6 L436.5,320.6 L437.5,320.6 L438.6,320.7 L439.7,320.7 L440.7,320.7 L441.8,320.7 L442.9,320.7 L443.9,320.7 L445.0,320.8 L446.1,320.8 L447.1,320.8 L448.2,320.8 L449.3,320.8 L450.3,320.8 L451.4,320.8 L452.5,320.8 L453.5,320.8 L454.6,320.9 L455.7,320.9 L456.7,320.9 L457.8,320.9 L458.9,320.9 L459.9,320.9 L461.0,320.9 L462.1,320.9 L463.1,320.9 L464.2,320.9 L465.2,320.9 L466.3,320.9 L467.4,320.9 L468.4,320.9 L469.5,320.9 L470.6,320.9 L471.6,320.9 L472.7,320.9 L473.7,320.9 L474.8,320.9 L475.9,320.9 L476.9,320.9 L478.0,320.9 L479.1,320.9 L480.1,320.9 L481.2,320.9 L482.2,320.8 L483.3,320.8 L484.4,320.8 L485.4,320.8 L486.5,320.8 L487.5,320.8 L488.6,320.8 L489.7,320.8 L490.7,320.8 L491.8,320.7 L492.8,320.7 L493.9,320.7 L495.0,320.7 L496.0,320.7 L497.1,320.7 L498.1,320.7 L499.2,320.6 L500.2,320.6 L501.3,320.6 L502.4,320.6 L503.4,320.6 L504.5,320.6 L505.5,320.5 L506.6,320.5 L507.6,320.5 L508.7,320.5 L509.7,320.5 L510.8,320.5 L511.9,320.4 L512.9,320.4" fill="none" stroke="#33ee33" stroke-width="2.2" stroke-dasharray="4,2.8"/><path d="M58.8,337.2 L60.4,23.0" fill="none" stroke="#33ee33" stroke-width="1.8"/><path d="M60.5,23.0 L60.6,23.9 L60.7,24.9 L60.7,25.8 L60.8,26.8 L60.8,27.8 L60.9,28.7 L61.0,29.7 L61.0,30.7 L61.1,31.6 L61.1,32.6 L61.2,33.6 L61.2,34.6 L61.3,35.6 L61.3,36.6 L61.4,37.6 L61.4,38.6 L61.5,39.6 L61.5,40.6 L61.5,41.6 L61.6,42.6 L61.6,43.6 L61.7,44.6 L61.7,45.6 L61.7,46.7 L61.8,47.7 L61.8,48.7 L61.8,49.8 L61.9,50.8 L61.9,51.8 L62.0,52.9 L62.0,53.9 L62.0,55.0 L62.1,56.0 L62.1,57.1 L62.1,58.1 L62.2,59.2 L62.2,60.2 L62.2,61.3 L62.3,62.4 L62.3,63.4 L62.4,64.5" fill="none" stroke="#33ee33" stroke-width="1.6"/>
</g>
<!-- zoom rects -->
<g fill="none" stroke="#333" stroke-width="1.2">
<path d="M56,48.7 H105.6 V215.6 H56"/>
<rect x="105.7" y="312.8" width="139.5" height="23"/>
<line x1="105.6" y1="162.5" x2="121" y2="147.5" stroke="#444" stroke-width="1"/>
<line x1="245.3" y1="312.6" x2="274" y2="295.6" stroke="#444" stroke-width="1"/>
</g>
<path d="M127.3,141.2 L118.8,146.0 L122.0,149.5 Z" fill="#000"/>
<path d="M281.5,291.0 L272.0,294.4 L275.2,297.2 Z" fill="#000"/>
<!-- inset 1 -->
<rect x="136.8" y="11.8" width="163.5" height="143.0" fill="#fff"/>
<g clip-path="url(#c1)"><path d="M145.9,15.5 L146.7,20.4 L147.5,25.3 L148.2,30.0 L149.0,34.5 L149.8,38.9 L150.6,43.2 L151.3,47.2 L152.1,51.0 L152.9,54.5 L153.7,57.8 L154.4,60.8 L155.2,63.4 L156.0,65.7 L156.8,67.7 L157.5,69.5 L158.3,71.2 L159.1,72.8 L159.9,74.3 L160.6,75.7 L161.4,77.0 L162.2,78.2 L163.0,79.4 L163.7,80.5 L164.5,81.6 L165.3,82.7 L166.1,83.7 L166.8,84.8 L167.6,85.8 L168.4,86.9 L169.2,87.9 L169.9,89.0 L170.7,90.0 L171.5,91.0 L172.3,92.0 L173.0,93.0 L173.8,93.9 L174.6,94.8 L175.4,95.7 L176.1,96.6 L176.9,97.5 L177.7,98.4 L178.5,99.2 L179.2,100.0 L180.0,100.8 L180.8,101.5 L181.6,102.3 L182.3,103.0 L183.1,103.7 L183.9,104.5 L184.7,105.2 L185.4,105.9 L186.2,106.5 L187.0,107.2 L187.8,107.9 L188.5,108.5 L189.3,109.2 L190.1,109.8 L190.9,110.4 L191.6,111.0 L192.4,111.6 L193.2,112.2 L194.0,112.8 L194.7,113.4 L195.5,114.0 L196.3,114.5 L197.1,115.1 L197.8,115.6 L198.6,116.2 L199.4,116.7 L200.2,117.2 L200.9,117.7 L201.7,118.2 L202.5,118.7 L203.3,119.2 L204.0,119.7 L204.8,120.2 L205.6,120.7 L206.4,121.2 L207.1,121.6 L207.9,122.1 L208.7,122.6 L209.5,123.0 L210.2,123.5 L211.0,123.9 L211.8,124.3 L212.6,124.8 L213.3,125.2 L214.1,125.6 L214.9,126.1 L215.7,126.5 L216.4,126.9 L217.2,127.3 L218.0,127.7 L218.8,128.1 L219.5,128.5 L220.3,128.9 L221.1,129.3 L221.9,129.6 L222.6,130.0 L223.4,130.4 L224.2,130.7 L225.0,131.1 L225.7,131.4 L226.5,131.8 L227.3,132.1 L228.1,132.4 L228.8,132.8 L229.6,133.1 L230.4,133.4 L231.2,133.7 L231.9,134.0 L232.7,134.3 L233.5,134.7 L234.3,135.0 L235.0,135.3 L235.8,135.6 L236.6,135.9 L237.4,136.1 L238.1,136.4 L238.9,136.7 L239.7,137.0 L240.5,137.3 L241.2,137.6 L242.0,137.8 L242.8,138.1 L243.6,138.4 L244.3,138.6 L245.1,138.9 L245.9,139.1 L246.7,139.4 L247.4,139.7 L248.2,139.9 L249.0,140.1 L249.8,140.4 L250.5,140.6 L251.3,140.8 L252.1,141.1 L252.9,141.3 L253.6,141.5 L254.4,141.7 L255.2,141.9 L256.0,142.2 L256.7,142.4 L257.5,142.6 L258.3,142.8 L259.1,143.0 L259.8,143.2 L260.6,143.4 L261.4,143.6 L262.2,143.7 L262.9,143.9 L263.7,144.1 L264.5,144.3 L265.3,144.5 L266.0,144.7 L266.8,144.9 L267.6,145.1 L268.4,145.3 L269.1,145.4 L269.9,145.6 L270.7,145.8 L271.5,146.0 L272.2,146.2 L273.0,146.3 L273.8,146.5 L274.6,146.7 L275.3,146.9 L276.1,147.0 L276.9,147.2 L277.7,147.4 L278.4,147.5 L279.2,147.7 L280.0,147.8 L280.8,148.0 L281.5,148.2 L282.3,148.3 L283.1,148.5 L283.9,148.6 L284.6,148.8 L285.4,148.9 L286.2,149.0 L287.0,149.2 L287.7,149.3 L288.5,149.5 L289.3,149.6 L290.1,149.7 L290.8,149.8 L291.6,150.0 L292.4,150.1 L293.2,150.2 L293.9,150.3 L294.7,150.4 L295.5,150.6 L296.3,150.7 L297.0,150.8 L297.8,150.9 L298.6,151.0 L299.4,151.1 L300.1,151.2" fill="none" stroke="#90e090" stroke-width="1.0" stroke-dasharray="2,1"/><path d="M145.1,165.0 L145.1,15.5 L145.1,15.5 L145.7,23.8 L146.3,31.5 L147.0,38.2 L147.6,43.3 L148.3,47.8 L148.9,51.9 L149.5,55.6 L150.2,59.1 L150.8,62.3 L151.4,65.2 L152.1,67.9 L152.7,70.5 L153.3,72.8 L154.0,75.1 L154.6,77.2 L155.3,79.2 L155.9,81.2 L156.5,83.0 L157.2,84.8 L157.8,86.5 L158.4,88.1 L159.1,89.6 L159.7,91.0 L160.4,92.3 L161.0,93.6 L161.6,94.8 L162.3,96.0 L162.9,97.1 L163.5,98.3 L164.2,99.3 L164.8,100.4 L165.5,101.5 L166.1,102.5 L166.7,103.5 L167.4,104.4 L168.0,105.4 L168.6,106.3 L169.3,107.2 L169.9,108.1 L170.6,108.9 L171.2,109.8 L171.8,110.6 L172.5,111.4 L173.1,112.2 L173.7,112.9 L174.4,113.7 L175.0,114.4 L175.6,115.1 L176.3,115.8 L176.9,116.5 L177.6,117.1 L178.2,117.8 L178.8,118.4 L179.5,119.0 L180.1,119.6 L180.7,120.2 L181.4,120.8 L182.0,121.3 L182.7,121.9 L183.3,122.4 L183.9,122.9 L184.6,123.5 L185.2,124.0 L185.8,124.5 L186.5,125.0 L187.1,125.4 L187.8,125.9 L188.4,126.4 L189.0,126.8 L189.7,127.3 L190.3,127.7 L190.9,128.1 L191.6,128.5 L192.2,128.9 L192.8,129.4 L193.5,129.8 L194.1,130.1 L194.8,130.5 L195.4,130.9 L196.0,131.3 L196.7,131.6 L197.3,132.0 L197.9,132.4 L198.6,132.7 L199.2,133.1 L199.9,133.4 L200.5,133.7 L201.1,134.1 L201.8,134.4 L202.4,134.7 L203.0,135.1 L203.7,135.4 L204.3,135.7 L205.0,136.0 L205.6,136.3 L206.2,136.6 L206.9,136.9 L207.5,137.2 L208.1,137.5 L208.8,137.8 L209.4,138.1 L210.1,138.4 L210.7,138.6 L211.3,138.9 L212.0,139.2 L212.6,139.5 L213.2,139.7 L213.9,140.0 L214.5,140.3 L215.1,140.5 L215.8,140.8 L216.4,141.0 L217.1,141.3 L217.7,141.5 L218.3,141.8 L219.0,142.0 L219.6,142.3 L220.2,142.5 L220.9,142.7 L221.5,143.0 L222.2,143.2 L222.8,143.5 L223.4,143.7 L224.1,143.9 L224.7,144.2 L225.3,144.4 L226.0,144.6 L226.6,144.8 L227.3,145.1 L227.9,145.3 L228.5,145.5 L229.2,145.7 L229.8,146.0 L230.4,146.2 L231.1,146.4 L231.7,146.6 L232.3,146.8 L233.0,147.0 L233.6,147.2 L234.3,147.4 L234.9,147.6 L235.5,147.8 L236.2,148.0 L236.8,148.2 L237.4,148.4 L238.1,148.6 L238.7,148.8 L239.4,149.0 L240.0,149.2 L240.6,149.4 L241.3,149.6 L241.9,149.8 L242.5,150.0 L243.2,150.1 L243.8,150.3 L244.5,150.5 L245.1,150.7 L245.7,150.9 L246.4,151.1 L247.0,151.3 L247.6,151.4 L248.3,151.6 L248.9,151.8 L249.6,152.0 L250.2,152.2 L250.8,152.3 L251.5,152.5 L252.1,152.7 L252.7,152.9 L253.4,153.1 L254.0,153.3 L254.6,153.5 L255.3,153.6 L255.9,153.8 L256.6,154.0 L257.2,154.2 L257.8,154.4 L258.5,154.6 L259.1,154.8 L259.7,155.0 L260.4,155.2 L261.0,155.4 L261.7,155.6 L262.3,155.7 L262.9,155.9 L263.6,156.1 L264.2,156.3 L264.8,156.5 L265.5,156.7 L266.1,156.9 L266.8,157.1 L267.4,157.3 L268.0,157.5 L268.7,157.7 L269.3,157.9 L269.9,158.1 L270.6,158.2 L271.2,158.4 L271.9,158.6" fill="none" stroke="#70d070" stroke-width="1.1"/><path d="M153.3,55.0 L153.9,58.0 L154.6,60.9 L155.2,63.7 L155.9,66.3 L156.5,68.9 L157.2,71.2 L157.8,73.3 L158.5,75.3 L159.1,77.2 L159.8,79.1 L160.5,80.9 L161.1,82.6 L161.8,84.3 L162.4,85.9 L163.1,87.5 L163.7,89.0 L164.4,90.4 L165.0,91.8 L165.7,93.1 L166.3,94.4 L167.0,95.6 L167.6,96.7 L168.3,97.8 L168.9,98.8 L169.6,99.8 L170.2,100.7 L170.9,101.6 L171.5,102.5 L172.2,103.3 L172.9,104.1 L173.5,104.9 L174.2,105.6 L174.8,106.3 L175.5,107.1 L176.1,107.8 L176.8,108.4 L177.4,109.1 L178.1,109.8 L178.7,110.5 L179.4,111.1 L180.0,111.8 L180.7,112.5 L181.3,113.1 L182.0,113.8 L182.6,114.4 L183.3,115.1 L184.0,115.7 L184.6,116.3 L185.3,116.9 L185.9,117.5 L186.6,118.1 L187.2,118.7 L187.9,119.3 L188.5,119.8 L189.2,120.4 L189.8,120.9 L190.5,121.5 L191.1,122.0 L191.8,122.5 L192.4,123.0 L193.1,123.5 L193.7,124.0 L194.4,124.5 L195.0,125.0 L195.7,125.5 L196.4,126.0 L197.0,126.4 L197.7,126.9 L198.3,127.4 L199.0,127.8 L199.6,128.2 L200.3,128.7 L200.9,129.1 L201.6,129.5 L202.2,129.8 L202.9,130.2 L203.5,130.6 L204.2,130.9 L204.8,131.3 L205.5,131.7 L206.1,132.0 L206.8,132.3 L207.5,132.7 L208.1,133.0 L208.8,133.4 L209.4,133.7 L210.1,134.0 L210.7,134.4 L211.4,134.7 L212.0,135.0 L212.7,135.3 L213.3,135.6 L214.0,135.9 L214.6,136.3 L215.3,136.6 L215.9,136.9 L216.6,137.1 L217.2,137.4 L217.9,137.7 L218.5,138.0 L219.2,138.3 L219.9,138.6 L220.5,138.8 L221.2,139.1 L221.8,139.4 L222.5,139.6 L223.1,139.9 L223.8,140.1 L224.4,140.4 L225.1,140.6 L225.7,140.8 L226.4,141.1 L227.0,141.3 L227.7,141.5 L228.3,141.7 L229.0,141.9 L229.6,142.2 L230.3,142.4 L231.0,142.6 L231.6,142.8 L232.3,142.9 L232.9,143.1 L233.6,143.3 L234.2,143.5 L234.9,143.7 L235.5,143.9 L236.2,144.0 L236.8,144.2 L237.5,144.4 L238.1,144.5 L238.8,144.7 L239.4,144.9 L240.1,145.0 L240.7,145.2 L241.4,145.3 L242.0,145.5 L242.7,145.6 L243.4,145.8 L244.0,145.9 L244.7,146.1 L245.3,146.2 L246.0,146.4 L246.6,146.5 L247.3,146.7 L247.9,146.8 L248.6,146.9 L249.2,147.1 L249.9,147.2 L250.5,147.4 L251.2,147.5 L251.8,147.7 L252.5,147.8 L253.1,148.0 L253.8,148.1 L254.4,148.2 L255.1,148.4 L255.8,148.5 L256.4,148.7 L257.1,148.9 L257.7,149.0 L258.4,149.2 L259.0,149.3 L259.7,149.5 L260.3,149.6 L261.0,149.8 L261.6,150.0 L262.3,150.1 L262.9,150.3 L263.6,150.5 L264.2,150.6 L264.9,150.8 L265.5,150.9 L266.2,151.1 L266.9,151.3 L267.5,151.4 L268.2,151.6 L268.8,151.8 L269.5,151.9 L270.1,152.1 L270.8,152.3 L271.4,152.4 L272.1,152.6 L272.7,152.8 L273.4,152.9 L274.0,153.1 L274.7,153.3 L275.3,153.4 L276.0,153.6 L276.6,153.8 L277.3,153.9 L277.9,154.1 L278.6,154.3 L279.3,154.4 L279.9,154.6 L280.6,154.8 L281.2,154.9 L281.9,155.1 L282.5,155.3 L283.2,155.4" fill="none" stroke="#6470d8" stroke-width="1.0" stroke-dasharray="1.5,1"/><path d="M149.5,165.0 L149.5,69.3 L152.7,54.0 L152.7,54.0 L153.3,57.2 L154.0,60.5 L154.6,63.6 L155.3,66.6 L155.9,69.4 L156.6,71.9 L157.2,74.1 L157.8,76.2 L158.5,78.1 L159.1,80.0 L159.8,81.8 L160.4,83.5 L161.0,85.2 L161.7,86.8 L162.3,88.3 L163.0,89.8 L163.6,91.2 L164.3,92.6 L164.9,93.9 L165.5,95.1 L166.2,96.3 L166.8,97.5 L167.5,98.6 L168.1,99.6 L168.7,100.6 L169.4,101.6 L170.0,102.5 L170.7,103.4 L171.3,104.3 L171.9,105.1 L172.6,105.9 L173.2,106.7 L173.9,107.4 L174.5,108.1 L175.2,108.8 L175.8,109.5 L176.4,110.2 L177.1,110.9 L177.7,111.6 L178.4,112.2 L179.0,112.9 L179.6,113.5 L180.3,114.2 L180.9,114.9 L181.6,115.5 L182.2,116.1 L182.9,116.8 L183.5,117.4 L184.1,118.0 L184.8,118.6 L185.4,119.2 L186.1,119.8 L186.7,120.4 L187.3,120.9 L188.0,121.5 L188.6,122.0 L189.3,122.6 L189.9,123.1 L190.5,123.7 L191.2,124.2 L191.8,124.7 L192.5,125.2 L193.1,125.7 L193.8,126.2 L194.4,126.7 L195.0,127.2 L195.7,127.6 L196.3,128.1 L197.0,128.6 L197.6,129.0 L198.2,129.5 L198.9,129.9 L199.5,130.3 L200.2,130.7 L200.8,131.1 L201.5,131.5 L202.1,131.9 L202.7,132.3 L203.4,132.6 L204.0,133.0 L204.7,133.3 L205.3,133.6 L205.9,134.0 L206.6,134.3 L207.2,134.6 L207.9,135.0 L208.5,135.3 L209.1,135.6 L209.8,135.9 L210.4,136.2 L211.1,136.5 L211.7,136.8 L212.4,137.1 L213.0,137.4 L213.6,137.7 L214.3,138.0 L214.9,138.3 L215.6,138.5 L216.2,138.8 L216.8,139.1 L217.5,139.4 L218.1,139.6 L218.8,139.9 L219.4,140.1 L220.1,140.4 L220.7,140.6 L221.3,140.9 L222.0,141.1 L222.6,141.4 L223.3,141.6 L223.9,141.8 L224.5,142.1 L225.2,142.3 L225.8,142.5 L226.5,142.7 L227.1,142.9 L227.7,143.2 L228.4,143.4 L229.0,143.6 L229.7,143.8 L230.3,144.0 L231.0,144.2 L231.6,144.3 L232.2,144.5 L232.9,144.7 L233.5,144.9 L234.2,145.1 L234.8,145.2 L235.4,145.4 L236.1,145.6 L236.7,145.7 L237.4,145.9 L238.0,146.1 L238.7,146.2 L239.3,146.4 L239.9,146.5 L240.6,146.7 L241.2,146.8 L241.9,147.0 L242.5,147.1 L243.1,147.3 L243.8,147.4 L244.4,147.6 L245.1,147.7 L245.7,147.9 L246.3,148.0 L247.0,148.2 L247.6,148.3 L248.3,148.4 L248.9,148.6 L249.6,148.7 L250.2,148.9 L250.8,149.0 L251.5,149.2 L252.1,149.3 L252.8,149.4 L253.4,149.6 L254.0,149.7 L254.7,149.9 L255.3,150.0 L256.0,150.2 L256.6,150.3 L257.3,150.5 L257.9,150.6 L258.5,150.8 L259.2,151.0 L259.8,151.1 L260.5,151.3 L261.1,151.4 L261.7,151.6 L262.4,151.8 L263.0,151.9 L263.7,152.1 L264.3,152.3 L264.9,152.4 L265.6,152.6 L266.2,152.8 L266.9,152.9 L267.5,153.1 L268.2,153.3 L268.8,153.4 L269.4,153.6 L270.1,153.8 L270.7,153.9 L271.4,154.1 L272.0,154.3 L272.6,154.4 L273.3,154.6 L273.9,154.8 L274.6,155.0 L275.2,155.1 L275.9,155.3 L276.5,155.5 L277.1,155.6 L277.8,155.8 L278.4,156.0 L279.1,156.2 L279.7,156.3 L280.3,156.5" fill="none" stroke="#5260cc" stroke-width="1.0"/><path d="M195.7,154.4 L196.2,152.0 L196.8,149.7 L197.3,147.4 L197.8,145.2 L198.3,143.2 L198.9,141.2 L199.4,139.3 L199.9,137.6 L200.4,135.9 L201.0,134.4 L201.5,133.0 L202.0,131.7 L202.5,130.5 L203.1,129.3 L203.6,128.2 L204.1,127.2 L204.6,126.1 L205.2,125.2 L205.7,124.2 L206.2,123.3 L206.7,122.3 L207.3,121.4 L207.8,120.5 L208.3,119.6 L208.8,118.6 L209.4,117.8 L209.9,116.9 L210.4,116.1 L210.9,115.4 L211.5,114.7 L212.0,114.2 L212.5,113.7 L213.0,113.3 L213.6,112.8 L214.1,112.4 L214.6,112.1 L215.1,111.8 L215.7,111.5 L216.2,111.4 L216.7,111.3 L217.2,111.3 L217.8,111.4 L218.3,111.4 L218.8,111.5 L219.3,111.6 L219.9,111.6 L220.4,111.7 L220.9,111.9 L221.4,112.0 L222.0,112.1 L222.5,112.2 L223.0,112.4 L223.5,112.6 L224.1,112.8 L224.6,113.1 L225.1,113.4 L225.6,113.7 L226.2,114.1 L226.7,114.4 L227.2,114.8 L227.7,115.3 L228.3,115.7 L228.8,116.1 L229.3,116.6 L229.8,117.1 L230.4,117.5 L230.9,118.0 L231.4,118.5 L231.9,119.0 L232.5,119.4 L233.0,119.9 L233.5,120.3 L234.0,120.8 L234.6,121.2 L235.1,121.7 L235.6,122.3 L236.1,122.8 L236.7,123.4 L237.2,123.9 L237.7,124.5 L238.2,125.1 L238.8,125.6 L239.3,126.2 L239.8,126.8 L240.3,127.4 L240.9,128.0 L241.4,128.5 L241.9,129.1 L242.4,129.6 L243.0,130.1 L243.5,130.6 L244.0,131.1 L244.5,131.6 L245.1,132.0 L245.6,132.4 L246.1,132.8 L246.6,133.2 L247.1,133.5 L247.7,133.8 L248.2,134.2 L248.7,134.5 L249.2,134.8 L249.8,135.1 L250.3,135.4 L250.8,135.7 L251.3,136.0 L251.9,136.3 L252.4,136.6 L252.9,136.8 L253.4,137.1 L254.0,137.4 L254.5,137.7 L255.0,137.9 L255.5,138.2 L256.1,138.4 L256.6,138.7 L257.1,138.9 L257.6,139.2 L258.2,139.4 L258.7,139.6 L259.2,139.9 L259.7,140.1 L260.3,140.3 L260.8,140.6 L261.3,140.8 L261.8,141.0 L262.4,141.2 L262.9,141.4 L263.4,141.6 L263.9,141.8 L264.5,142.0 L265.0,142.2 L265.5,142.4 L266.0,142.6 L266.6,142.8 L267.1,143.0 L267.6,143.2 L268.1,143.4 L268.7,143.6 L269.2,143.8 L269.7,144.0 L270.2,144.2 L270.8,144.4 L271.3,144.5 L271.8,144.7 L272.3,144.9 L272.9,145.1 L273.4,145.3 L273.9,145.5 L274.4,145.6 L275.0,145.8 L275.5,146.0 L276.0,146.2 L276.5,146.4 L277.1,146.5 L277.6,146.7 L278.1,146.9 L278.6,147.1 L279.2,147.2 L279.7,147.4 L280.2,147.6 L280.7,147.7 L281.3,147.9 L281.8,148.1 L282.3,148.2 L282.8,148.4 L283.4,148.5 L283.9,148.7 L284.4,148.9 L284.9,149.0 L285.5,149.2 L286.0,149.3 L286.5,149.5 L287.0,149.6 L287.6,149.8 L288.1,149.9 L288.6,150.1 L289.1,150.2 L289.7,150.3 L290.2,150.5 L290.7,150.6 L291.2,150.8 L291.8,150.9 L292.3,151.0 L292.8,151.2 L293.3,151.3 L293.9,151.4 L294.4,151.5 L294.9,151.7 L295.4,151.8 L296.0,151.9 L296.5,152.0 L297.0,152.1 L297.5,152.2 L298.1,152.3 L298.6,152.4 L299.1,152.6 L299.6,152.7 L300.1,152.8" fill="none" stroke="#d83a48" stroke-width="1.2"/></g>
<rect x="136.8" y="11.8" width="163.5" height="143.0" fill="none" stroke="#444" stroke-width="1.3"/>
<g stroke="#444" stroke-width="1"><line x1="135.0" y1="154.4" x2="136.8" y2="154.4"/><line x1="133.8" y1="133.0" x2="136.8" y2="133.0"/><line x1="135.0" y1="111.6" x2="136.8" y2="111.6"/><line x1="133.8" y1="90.3" x2="136.8" y2="90.3"/><line x1="135.0" y1="68.9" x2="136.8" y2="68.9"/><line x1="133.8" y1="47.6" x2="136.8" y2="47.6"/><line x1="135.0" y1="26.2" x2="136.8" y2="26.2"/><line x1="144.5" y1="154.8" x2="144.5" y2="157.8"/><line x1="155.8" y1="154.8" x2="155.8" y2="156.6"/><line x1="167.1" y1="154.8" x2="167.1" y2="156.6"/><line x1="178.5" y1="154.8" x2="178.5" y2="156.6"/><line x1="189.8" y1="154.8" x2="189.8" y2="156.6"/><line x1="201.1" y1="154.8" x2="201.1" y2="157.8"/><line x1="212.4" y1="154.8" x2="212.4" y2="156.6"/><line x1="223.7" y1="154.8" x2="223.7" y2="156.6"/><line x1="235.1" y1="154.8" x2="235.1" y2="156.6"/><line x1="246.4" y1="154.8" x2="246.4" y2="156.6"/><line x1="257.7" y1="154.8" x2="257.7" y2="157.8"/><line x1="269.0" y1="154.8" x2="269.0" y2="156.6"/><line x1="280.3" y1="154.8" x2="280.3" y2="156.6"/><line x1="291.7" y1="154.8" x2="291.7" y2="156.6"/></g>
<g font-family="Liberation Sans, Arial, sans-serif" font-weight="bold" font-size="4.6" text-anchor="end" fill="#111" stroke="#111" stroke-width="0.2"><text x="132.6" y="134.6">8</text><text x="132.6" y="91.9">12</text><text x="132.6" y="49.2">16</text></g>
<g font-family="Liberation Sans, Arial, sans-serif" font-weight="bold" font-size="4.6" text-anchor="middle" fill="#111" stroke="#111" stroke-width="0.2"><text x="144.5" y="162.4">0</text><text x="201.1" y="162.4">2</text><text x="257.7" y="162.4">4</text></g>
<text x="218.6" y="168.3" font-family="Liberation Sans, Arial, sans-serif" font-weight="bold" font-size="6.9" text-anchor="middle" fill="#111" stroke="#111" stroke-width="0.3">Time (ps)</text>
<text transform="translate(122.6,125) rotate(-90)" font-family="Liberation Sans, Arial, sans-serif" font-weight="bold" font-size="6.8" fill="#111" stroke="#111" stroke-width="0.35" textLength="78" lengthAdjust="spacingAndGlyphs">Electron temperature (10<tspan dy="-2.5" font-size="4.5">3</tspan><tspan dy="2.5">K)</tspan></text>
<!-- inset 2 -->
<rect x="291.4" y="187.8" width="205.8" height="104.19999999999999" fill="#fff"/>
<g clip-path="url(#c2)"><path d="M291.0,240.9 L292.4,237.9 L293.8,237.6 L295.1,240.2 L296.5,239.3 L297.9,239.2 L299.3,236.6 L300.7,237.2 L302.1,235.1 L303.4,239.4 L304.8,232.5 L306.2,235.0 L307.6,233.1 L309.0,234.0 L310.4,234.0 L311.7,231.9 L313.1,230.7 L314.5,232.0 L315.9,231.4 L317.3,229.4 L318.7,231.7 L320.0,232.4 L321.4,228.4 L322.8,229.8 L324.2,231.7 L325.6,229.1 L326.9,228.0 L328.3,228.8 L329.7,228.9 L331.1,225.5 L332.5,223.5 L333.9,225.1 L335.2,225.5 L336.6,223.0 L338.0,221.9 L339.4,223.3 L340.8,221.2 L342.2,219.8 L343.5,221.7 L344.9,222.3 L346.3,219.7 L347.7,219.4 L349.1,217.4 L350.4,221.4 L351.8,219.8 L353.2,219.6 L354.6,220.9 L356.0,217.0 L357.4,215.8 L358.7,217.7 L360.1,213.3 L361.5,213.9 L362.9,213.9 L364.3,213.9 L365.7,212.5 L367.0,216.3 L368.4,212.3 L369.8,211.9 L371.2,216.0 L372.6,211.7 L374.0,212.4 L375.3,210.2 L376.7,212.1 L378.1,211.0 L379.5,210.0 L380.9,212.0 L382.2,208.9 L383.6,209.9 L385.0,208.4 L386.4,209.9 L387.8,206.6 L389.2,207.1 L390.5,208.2 L391.9,206.2 L393.3,204.5 L394.7,203.0 L396.1,208.7 L397.5,203.5 L398.8,203.8 L400.2,204.3 L401.6,205.6 L403.0,201.0 L404.4,205.4 L405.8,201.9 L407.1,200.4 L408.5,205.6 L409.9,203.1 L411.3,204.9 L412.7,201.9 L414.0,199.5 L415.4,198.5 L416.8,205.5 L418.2,203.2 L419.6,200.7 L421.0,199.0 L422.3,201.1 L423.7,203.2 L425.1,201.1 L426.5,201.6 L427.9,201.9 L429.3,202.8 L430.6,200.6 L432.0,200.6 L433.4,201.3 L434.8,201.5 L436.2,203.4 L437.6,201.8 L438.9,198.6 L440.3,201.1 L441.7,203.4 L443.1,198.1 L444.5,199.6 L445.8,196.6 L447.2,200.4 L448.6,201.4 L450.0,203.2 L451.4,198.0 L452.8,195.7 L454.1,202.1 L455.5,201.8 L456.9,199.6 L458.3,202.3 L459.7,201.3 L461.1,201.5 L462.4,200.6 L463.8,199.0 L465.2,201.1 L466.6,199.6 L468.0,202.2 L469.3,200.9 L470.7,205.6 L472.1,204.5 L473.5,200.4 L474.9,203.1 L476.3,201.0 L477.6,201.2 L479.0,199.9 L480.4,201.0 L481.8,200.8 L483.2,203.1 L484.6,204.4 L485.9,204.6 L487.3,204.4 L488.7,205.8 L490.1,204.9 L491.5,204.3 L492.9,203.8 L494.2,205.2 L495.6,208.3 L497.0,205.1" fill="none" stroke="#7edc7e" stroke-width="0.9"/><path d="M291.0,252.5 L292.4,250.1 L293.8,250.2 L295.1,249.8 L296.5,247.7 L297.9,252.5 L299.3,250.9 L300.7,251.8 L302.1,249.1 L303.4,246.6 L304.8,248.0 L306.2,246.6 L307.6,250.6 L309.0,246.4 L310.4,247.9 L311.7,242.5 L313.1,243.7 L314.5,243.1 L315.9,244.5 L317.3,242.9 L318.7,242.3 L320.0,243.8 L321.4,243.6 L322.8,242.5 L324.2,242.9 L325.6,242.5 L326.9,241.5 L328.3,241.9 L329.7,238.7 L331.1,242.6 L332.5,237.7 L333.9,239.9 L335.2,239.4 L336.6,240.4 L338.0,237.7 L339.4,237.4 L340.8,236.2 L342.2,237.1 L343.5,235.4 L344.9,231.8 L346.3,233.9 L347.7,235.3 L349.1,232.0 L350.4,233.6 L351.8,231.8 L353.2,231.4 L354.6,232.8 L356.0,235.2 L357.4,231.9 L358.7,229.8 L360.1,231.2 L361.5,229.2 L362.9,227.9 L364.3,230.4 L365.7,226.7 L367.0,225.6 L368.4,226.3 L369.8,225.9 L371.2,225.7 L372.6,223.3 L374.0,226.8 L375.3,226.9 L376.7,225.5 L378.1,228.1 L379.5,229.0 L380.9,227.5 L382.2,224.9 L383.6,224.5 L385.0,228.0 L386.4,228.4 L387.8,225.3 L389.2,224.9 L390.5,224.4 L391.9,222.8 L393.3,221.6 L394.7,223.3 L396.1,222.4 L397.5,225.4 L398.8,225.3 L400.2,222.5 L401.6,221.6 L403.0,221.3 L404.4,221.4 L405.8,220.9 L407.1,220.7 L408.5,225.3 L409.9,223.2 L411.3,220.9 L412.7,220.5 L414.0,224.3 L415.4,219.2 L416.8,222.1 L418.2,221.6 L419.6,220.5 L421.0,219.5 L422.3,223.5 L423.7,218.9 L425.1,220.6 L426.5,222.1 L427.9,221.1 L429.3,224.6 L430.6,221.6 L432.0,220.0 L433.4,221.6 L434.8,220.9 L436.2,220.5 L437.6,220.1 L438.9,218.2 L440.3,220.1 L441.7,220.5 L443.1,218.9 L444.5,216.0 L445.8,220.4 L447.2,218.7 L448.6,222.5 L450.0,217.0 L451.4,218.2 L452.8,216.8 L454.1,219.3 L455.5,221.0 L456.9,217.3 L458.3,217.4 L459.7,220.3 L461.1,221.3 L462.4,217.6 L463.8,218.6 L465.2,213.3 L466.6,219.1 L468.0,218.8 L469.3,217.8 L470.7,220.6 L472.1,219.0 L473.5,214.1 L474.9,217.2 L476.3,217.9 L477.6,218.9 L479.0,215.3 L480.4,214.9 L481.8,215.5 L483.2,216.5 L484.6,215.0 L485.9,214.6 L487.3,216.4 L488.7,213.7 L490.1,218.6 L491.5,216.8 L492.9,214.8 L494.2,214.2 L495.6,215.9 L497.0,212.9" fill="none" stroke="#40c840" stroke-width="0.9"/><path d="M291.0,251.6 L292.4,260.3 L293.8,252.4 L295.1,253.6 L296.5,250.9 L297.9,252.2 L299.3,249.1 L300.7,252.1 L302.1,252.7 L303.4,250.2 L304.8,250.1 L306.2,251.1 L307.6,250.5 L309.0,248.3 L310.4,247.9 L311.7,249.7 L313.1,249.0 L314.5,251.3 L315.9,244.3 L317.3,247.4 L318.7,244.1 L320.0,245.4 L321.4,242.1 L322.8,242.4 L324.2,244.3 L325.6,241.7 L326.9,245.7 L328.3,241.2 L329.7,245.8 L331.1,242.0 L332.5,240.2 L333.9,241.3 L335.2,241.9 L336.6,242.2 L338.0,240.9 L339.4,237.7 L340.8,237.5 L342.2,239.1 L343.5,240.5 L344.9,236.4 L346.3,239.8 L347.7,237.5 L349.1,237.4 L350.4,234.1 L351.8,234.6 L353.2,233.7 L354.6,233.5 L356.0,234.8 L357.4,232.1 L358.7,230.0 L360.1,232.2 L361.5,230.6 L362.9,231.6 L364.3,229.0 L365.7,229.3 L367.0,228.6 L368.4,229.3 L369.8,226.6 L371.2,230.0 L372.6,229.7 L374.0,229.9 L375.3,227.4 L376.7,229.5 L378.1,229.3 L379.5,226.5 L380.9,225.4 L382.2,226.3 L383.6,232.1 L385.0,228.7 L386.4,228.7 L387.8,228.7 L389.2,227.0 L390.5,222.7 L391.9,226.4 L393.3,227.0 L394.7,224.1 L396.1,225.1 L397.5,224.8 L398.8,226.2 L400.2,224.7 L401.6,223.7 L403.0,227.9 L404.4,227.2 L405.8,222.0 L407.1,222.3 L408.5,224.7 L409.9,225.5 L411.3,223.8 L412.7,225.6 L414.0,223.8 L415.4,220.0 L416.8,222.7 L418.2,220.7 L419.6,223.1 L421.0,221.9 L422.3,219.9 L423.7,224.9 L425.1,223.0 L426.5,222.5 L427.9,221.6 L429.3,219.1 L430.6,220.7 L432.0,224.6 L433.4,222.3 L434.8,223.4 L436.2,223.3 L437.6,217.8 L438.9,223.5 L440.3,221.0 L441.7,222.7 L443.1,219.7 L444.5,220.6 L445.8,220.9 L447.2,221.2 L448.6,218.9 L450.0,222.7 L451.4,222.3 L452.8,223.0 L454.1,218.4 L455.5,221.4 L456.9,222.7 L458.3,221.5 L459.7,216.0 L461.1,220.8 L462.4,219.0 L463.8,219.7 L465.2,220.5 L466.6,221.7 L468.0,221.0 L469.3,221.0 L470.7,224.5 L472.1,215.5 L473.5,218.5 L474.9,220.0 L476.3,220.6 L477.6,221.6 L479.0,218.4 L480.4,220.5 L481.8,219.2 L483.2,222.6 L484.6,219.3 L485.9,216.3 L487.3,220.5 L488.7,218.5 L490.1,219.9 L491.5,217.9 L492.9,217.9 L494.2,219.8 L495.6,220.9 L497.0,219.4" fill="none" stroke="#2a3ac8" stroke-width="0.9"/><path d="M291.0,274.7 L292.4,277.2 L293.8,277.7 L295.1,279.5 L296.5,274.1 L297.9,270.5 L299.3,272.2 L300.7,270.6 L302.1,269.1 L303.4,272.0 L304.8,264.8 L306.2,270.8 L307.6,267.8 L309.0,262.8 L310.4,267.5 L311.7,266.5 L313.1,267.1 L314.5,264.9 L315.9,268.9 L317.3,265.5 L318.7,260.6 L320.0,262.8 L321.4,263.0 L322.8,261.3 L324.2,260.6 L325.6,260.5 L326.9,259.2 L328.3,262.8 L329.7,258.0 L331.1,259.8 L332.5,256.5 L333.9,257.4 L335.2,258.7 L336.6,256.4 L338.0,257.5 L339.4,253.2 L340.8,254.5 L342.2,252.3 L343.5,255.4 L344.9,249.7 L346.3,252.7 L347.7,249.0 L349.1,249.4 L350.4,252.4 L351.8,249.2 L353.2,250.3 L354.6,248.0 L356.0,245.5 L357.4,246.4 L358.7,245.2 L360.1,248.9 L361.5,245.8 L362.9,245.1 L364.3,243.2 L365.7,246.0 L367.0,243.4 L368.4,243.2 L369.8,246.5 L371.2,245.2 L372.6,242.1 L374.0,244.8 L375.3,244.5 L376.7,240.3 L378.1,241.1 L379.5,241.7 L380.9,240.8 L382.2,241.4 L383.6,241.4 L385.0,240.9 L386.4,239.0 L387.8,237.0 L389.2,240.1 L390.5,239.1 L391.9,239.1 L393.3,240.7 L394.7,237.7 L396.1,236.3 L397.5,239.2 L398.8,235.8 L400.2,238.2 L401.6,234.7 L403.0,234.4 L404.4,237.1 L405.8,239.9 L407.1,236.6 L408.5,238.3 L409.9,237.9 L411.3,235.7 L412.7,232.5 L414.0,234.9 L415.4,234.9 L416.8,237.8 L418.2,235.2 L419.6,236.5 L421.0,232.7 L422.3,234.4 L423.7,233.2 L425.1,232.9 L426.5,233.0 L427.9,230.6 L429.3,231.2 L430.6,232.5 L432.0,231.3 L433.4,230.3 L434.8,228.6 L436.2,230.7 L437.6,228.0 L438.9,231.6 L440.3,230.7 L441.7,232.9 L443.1,228.4 L444.5,231.8 L445.8,231.7 L447.2,228.1 L448.6,230.6 L450.0,231.0 L451.4,227.8 L452.8,230.0 L454.1,228.0 L455.5,230.6 L456.9,228.6 L458.3,228.1 L459.7,230.1 L461.1,227.1 L462.4,231.3 L463.8,231.1 L465.2,230.6 L466.6,229.0 L468.0,231.5 L469.3,231.8 L470.7,230.5 L472.1,228.6 L473.5,231.7 L474.9,233.2 L476.3,230.9 L477.6,229.3 L479.0,231.3 L480.4,229.8 L481.8,233.3 L483.2,229.5 L484.6,229.0 L485.9,227.7 L487.3,227.9 L488.7,226.7 L490.1,229.6 L491.5,226.1 L492.9,229.9 L494.2,227.5 L495.6,223.8 L497.0,223.8" fill="none" stroke="#dc3040" stroke-width="0.9"/></g>
<rect x="291.4" y="187.8" width="205.8" height="104.2" fill="none" stroke="#444" stroke-width="1.3"/>
<g stroke="#444" stroke-width="1"><line x1="289.6" y1="276.3" x2="291.4" y2="276.3"/><line x1="288.4" y1="257.7" x2="291.4" y2="257.7"/><line x1="289.6" y1="239.1" x2="291.4" y2="239.1"/><line x1="288.4" y1="220.5" x2="291.4" y2="220.5"/><line x1="289.6" y1="201.9" x2="291.4" y2="201.9"/><line x1="304.0" y1="292.0" x2="304.0" y2="293.8"/><line x1="317.6" y1="292.0" x2="317.6" y2="293.8"/><line x1="331.2" y1="292.0" x2="331.2" y2="293.8"/><line x1="344.8" y1="292.0" x2="344.8" y2="293.8"/><line x1="358.4" y1="292.0" x2="358.4" y2="295.0"/><line x1="372.0" y1="292.0" x2="372.0" y2="293.8"/><line x1="385.6" y1="292.0" x2="385.6" y2="293.8"/><line x1="399.2" y1="292.0" x2="399.2" y2="293.8"/><line x1="412.8" y1="292.0" x2="412.8" y2="293.8"/><line x1="426.4" y1="292.0" x2="426.4" y2="295.0"/><line x1="440.0" y1="292.0" x2="440.0" y2="293.8"/><line x1="453.6" y1="292.0" x2="453.6" y2="293.8"/><line x1="467.2" y1="292.0" x2="467.2" y2="293.8"/><line x1="480.8" y1="292.0" x2="480.8" y2="293.8"/><line x1="494.4" y1="292.0" x2="494.4" y2="295.0"/></g>
<g font-family="Liberation Sans, Arial, sans-serif" font-weight="bold" font-size="4.8" text-anchor="end" fill="#111" stroke="#111" stroke-width="0.25"><text x="289" y="259.5">0.8</text><text x="289" y="222.3">1.2</text></g>
<g font-family="Liberation Sans, Arial, sans-serif" font-weight="bold" font-size="4.8" text-anchor="middle" fill="#111" stroke="#111" stroke-width="0.25"><text x="358.4" y="299.6">5</text><text x="426.4" y="299.6">10</text><text x="494.4" y="299.6">15</text></g>
<text x="395" y="304.5" font-family="Liberation Sans, Arial, sans-serif" font-weight="bold" font-size="5.8" text-anchor="middle" fill="#111" stroke="#111" stroke-width="0.3">Time (ps)</text>
<text transform="translate(278.3,282.6) rotate(-90)" font-family="Liberation Sans, Arial, sans-serif" font-weight="bold" font-size="6.3" fill="#111" stroke="#111" stroke-width="0.35" textLength="75.5" lengthAdjust="spacingAndGlyphs">Lattice temperature (10<tspan dy="-2.5" font-size="4.2">3</tspan><tspan dy="2.5">K)</tspan></text>
<!-- main frame -->
<rect x="55.0" y="6.2" width="458.2" height="336.0" fill="none" stroke="#000" stroke-width="2"/>
<g stroke="#000" stroke-width="2"><line x1="47" y1="342.2" x2="55.0" y2="342.2"/><line x1="51" y1="325.4" x2="55.0" y2="325.4"/><line x1="47" y1="308.6" x2="55.0" y2="308.6"/><line x1="51" y1="291.8" x2="55.0" y2="291.8"/><line x1="47" y1="275.0" x2="55.0" y2="275.0"/><line x1="51" y1="258.2" x2="55.0" y2="258.2"/><line x1="47" y1="241.4" x2="55.0" y2="241.4"/><line x1="51" y1="224.6" x2="55.0" y2="224.6"/><line x1="47" y1="207.8" x2="55.0" y2="207.8"/><line x1="51" y1="191.0" x2="55.0" y2="191.0"/><line x1="47" y1="174.2" x2="55.0" y2="174.2"/><line x1="51" y1="157.4" x2="55.0" y2="157.4"/><line x1="47" y1="140.6" x2="55.0" y2="140.6"/><line x1="51" y1="123.8" x2="55.0" y2="123.8"/><line x1="47" y1="107.0" x2="55.0" y2="107.0"/><line x1="51" y1="90.2" x2="55.0" y2="90.2"/><line x1="47" y1="73.4" x2="55.0" y2="73.4"/><line x1="51" y1="56.6" x2="55.0" y2="56.6"/><line x1="47" y1="39.8" x2="55.0" y2="39.8"/><line x1="51" y1="23.0" x2="55.0" y2="23.0"/><line x1="47" y1="6.2" x2="55.0" y2="6.2"/><line x1="60.0" y1="342.2" x2="60.0" y2="349.3"/><line x1="82.7" y1="342.2" x2="82.7" y2="345.5"/><line x1="105.3" y1="342.2" x2="105.3" y2="345.5"/><line x1="127.9" y1="342.2" x2="127.9" y2="345.5"/><line x1="150.6" y1="342.2" x2="150.6" y2="345.5"/><line x1="173.2" y1="342.2" x2="173.2" y2="349.3"/><line x1="195.9" y1="342.2" x2="195.9" y2="345.5"/><line x1="218.5" y1="342.2" x2="218.5" y2="345.5"/><line x1="241.2" y1="342.2" x2="241.2" y2="345.5"/><line x1="263.9" y1="342.2" x2="263.9" y2="345.5"/><line x1="286.5" y1="342.2" x2="286.5" y2="349.3"/><line x1="309.1" y1="342.2" x2="309.1" y2="345.5"/><line x1="331.8" y1="342.2" x2="331.8" y2="345.5"/><line x1="354.4" y1="342.2" x2="354.4" y2="345.5"/><line x1="377.1" y1="342.2" x2="377.1" y2="345.5"/><line x1="399.8" y1="342.2" x2="399.8" y2="349.3"/><line x1="422.4" y1="342.2" x2="422.4" y2="345.5"/><line x1="445.0" y1="342.2" x2="445.0" y2="345.5"/><line x1="467.7" y1="342.2" x2="467.7" y2="345.5"/><line x1="490.3" y1="342.2" x2="490.3" y2="345.5"/><line x1="513.0" y1="342.2" x2="513.0" y2="349.3"/></g>
<g font-family="Liberation Sans, Arial, sans-serif" font-weight="bold" font-size="14" text-anchor="end" fill="#000"><text x="43.5" y="346.2">0</text><text x="43.5" y="312.6">2</text><text x="43.5" y="279.0">4</text><text x="43.5" y="245.4">6</text><text x="43.5" y="211.8">8</text><text x="43.5" y="178.2">10</text><text x="43.5" y="144.6">12</text><text x="43.5" y="111.0">14</text><text x="43.5" y="77.4">16</text><text x="43.5" y="43.8">18</text><text x="43.5" y="10.2">20</text></g>
<g font-family="Liberation Sans, Arial, sans-serif" font-weight="bold" font-size="14" text-anchor="middle" fill="#000"><text x="60.0" y="364">0</text><text x="173.2" y="364">10</text><text x="286.5" y="364">20</text><text x="399.8" y="364">30</text><text x="513.0" y="364">40</text></g>
<text x="284.4" y="390.2" font-family="Liberation Sans, Arial, sans-serif" font-size="16.8" text-anchor="middle" fill="#000" stroke="#000" stroke-width="0.2">Time (ps)</text>
<text transform="translate(16.3,259.8) rotate(-90)" font-family="Liberation Sans, Arial, sans-serif" font-size="16.8" fill="#000" stroke="#000" stroke-width="0.2">Temperature (10<tspan dy="-7" font-size="9.5">3</tspan><tspan dy="7">K)</tspan></text>
<!-- legend -->
<g font-family="Liberation Sans, Arial, sans-serif" font-size="13.3" fill="#000" stroke="#000" stroke-width="0.4">
<text transform="translate(320,44.4) scale(1,1.07)">red lines</text><text transform="translate(385.6,44.4) scale(1,1.07)">t</text><text transform="translate(389.6,50) scale(1,1.07)" font-size="8.5" font-weight="bold">p</text><text transform="translate(394.4,44.4) scale(1,1.07)">=1ps</text><text transform="translate(320,64.6) scale(1,1.07)">blue lines</text><text transform="translate(384,64.6) scale(1,1.07)">t</text><text transform="translate(388,70.2) scale(1,1.07)" font-size="8.5" font-weight="bold">p</text><text transform="translate(392.6,64.6) scale(1,1.07)">=100fs</text><text transform="translate(320,84.8) scale(1,1.07)">green lines</text><text transform="translate(393.4,84.8) scale(1,1.07)">t</text><text transform="translate(397.4,90.4) scale(1,1.07)" font-size="8.5" font-weight="bold">p</text><text transform="translate(401.2,84.8) scale(1,1.07)">=10fs</text><text transform="translate(319.5,124.4) scale(1,1.07)">dash lines</text><text transform="translate(392.6,124.4) scale(1,1.07)">HTTM-MD model</text><text transform="translate(319.5,141) scale(1,1.07)">solid lines</text><text transform="translate(390.8,141) scale(1,1.07)">TTM-MD model</text>
</g>
</svg>
</body></html>
